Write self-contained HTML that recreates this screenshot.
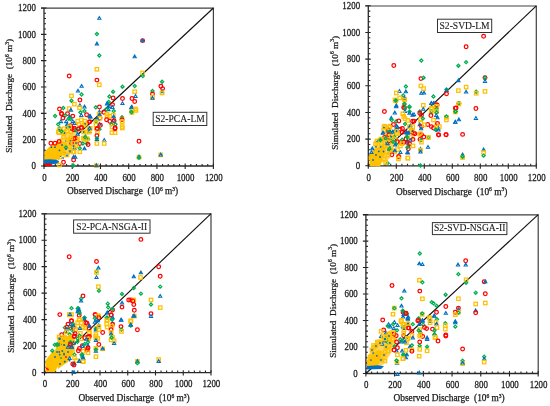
<!DOCTYPE html>
<html><head><meta charset="utf-8"><style>
html,body{margin:0;padding:0;background:#fff;}
svg{display:block;}
text{font-family:"Liberation Serif", "Times New Roman", serif;fill:#1a1a1a;stroke:#1a1a1a;stroke-width:0.25px;}
.t{font-size:9.7px;}
.l{font-size:9.2px;}
.lx{font-size:9.35px;}
.g{font-size:9.6px;stroke-width:0.1px;}
tspan.s{font-size:5.5px;}
.o{fill:none;stroke:#ff0000;stroke-width:1.25;}
.s_{fill:none;stroke:#ffc000;stroke-width:1.25;}
.d{fill:none;stroke:#00b050;stroke-width:1.25;}
.tr{fill:none;stroke:#0070c0;stroke-width:1.05;}
</style></head><body>
<svg width="550" height="406" viewBox="0 0 550 406">
<rect width="550" height="406" fill="#fff"/>
<path d="M41.00 8.20H213.40V166.00" fill="none" stroke="#404040" stroke-width="1.2"/>
<path d="M41.00 166.00H46.40M44.00 163.60V169.00M44.00 160.73H46.00M49.65 166.00V164.00M44.00 155.47H46.00M55.29 166.00V164.00M44.00 150.20H46.00M60.94 166.00V164.00M44.00 144.93H46.00M66.59 166.00V164.00M41.00 139.67H46.40M72.23 163.60V169.00M44.00 134.40H46.00M77.88 166.00V164.00M44.00 129.13H46.00M83.53 166.00V164.00M44.00 123.87H46.00M89.17 166.00V164.00M44.00 118.60H46.00M94.82 166.00V164.00M41.00 113.33H46.40M100.47 163.60V169.00M44.00 108.07H46.00M106.11 166.00V164.00M44.00 102.80H46.00M111.76 166.00V164.00M44.00 97.53H46.00M117.41 166.00V164.00M44.00 92.27H46.00M123.05 166.00V164.00M41.00 87.00H46.40M128.70 163.60V169.00M44.00 81.73H46.00M134.35 166.00V164.00M44.00 76.47H46.00M139.99 166.00V164.00M44.00 71.20H46.00M145.64 166.00V164.00M44.00 65.93H46.00M151.29 166.00V164.00M41.00 60.67H46.40M156.93 163.60V169.00M44.00 55.40H46.00M162.58 166.00V164.00M44.00 50.13H46.00M168.23 166.00V164.00M44.00 44.87H46.00M173.87 166.00V164.00M44.00 39.60H46.00M179.52 166.00V164.00M41.00 34.33H46.40M185.17 163.60V169.00M44.00 29.07H46.00M190.81 166.00V164.00M44.00 23.80H46.00M196.46 166.00V164.00M44.00 18.53H46.00M202.11 166.00V164.00M44.00 13.27H46.00M207.75 166.00V164.00M41.00 8.00H46.40M213.40 163.60V169.00" stroke="#222" stroke-width="1.1"/>
<path d="M44.00 8.00V166.00H213.40" fill="none" stroke="#2a2a2a" stroke-width="1.3"/>
<path d="M44.00 166.00L213.40 8.00" stroke="#111" stroke-width="1.15"/>
<polygon points="56,143 62,136 68,132 74,131 80,136 80,142 76,148 70,154 64,158" fill="#ffd560"/>
<polygon points="44.5,161 44.5,152 48,148 51,145.5 55,143.5 60,142 64,141.5 67,143 67,148 64,153 60,157.5 56,160.5" fill="#ffc000"/>
<polygon points="44,159.5 50,159.3 56,159.8 59,161 58.5,163.5 50,164.5 44,164.5" fill="#0070c0"/>
<polygon points="44.5,163.8 49,163.3 52,164.2 51.5,166 44.5,166" fill="#ff0000"/>
<path d="M99.3 16.5l1.6 2.8h-3.2z" class="tr"/>
<path d="M96.9 32.5l1.55 1.55l-1.55 1.55l-1.55 -1.55z" class="d"/>
<path d="M96.9 42.1l1.6 2.8h-3.2z" class="tr"/>
<path d="M99.3 53.9l1.55 1.55l-1.55 1.55l-1.55 -1.55z" class="d"/>
<circle cx="142.6" cy="40.6" r="1.85" class="o"/>
<path d="M142.6 39.0l1.6 2.8h-3.2z" class="tr"/>
<path d="M134.7 54.9l1.6 2.8h-3.2z" class="tr"/>
<rect x="95.2" y="67.6" width="3.4" height="3.4" class="s_"/>
<circle cx="69.2" cy="76.0" r="1.85" class="o"/>
<circle cx="96.9" cy="80.1" r="1.85" class="o"/>
<rect x="97.6" y="83.1" width="3.4" height="3.4" class="s_"/>
<path d="M81.6 84.5l1.6 2.8h-3.2z" class="tr"/>
<path d="M122.5 85.2l1.55 1.55l-1.55 1.55l-1.55 -1.55z" class="d"/>
<path d="M78.0 89.2l1.6 2.8h-3.2z" class="tr"/>
<path d="M113.1 90.2l1.55 1.55l-1.55 1.55l-1.55 -1.55z" class="d"/>
<path d="M81.6 93.0l1.55 1.55l-1.55 1.55l-1.55 -1.55z" class="d"/>
<rect x="69.8" y="94.2" width="3.4" height="3.4" class="s_"/>
<path d="M109.4 94.9l1.55 1.55l-1.55 1.55l-1.55 -1.55z" class="d"/>
<circle cx="113.1" cy="97.9" r="1.85" class="o"/>
<circle cx="122.5" cy="98.4" r="1.85" class="o"/>
<circle cx="79.9" cy="99.9" r="1.85" class="o"/>
<path d="M71.5 99.2l1.55 1.55l-1.55 1.55l-1.55 -1.55z" class="d"/>
<path d="M122.5 101.7l1.6 2.8h-3.2z" class="tr"/>
<rect x="72.7" y="102.4" width="3.4" height="3.4" class="s_"/>
<path d="M107.4 101.5l1.6 2.8h-3.2z" class="tr"/>
<circle cx="112.5" cy="104.6" r="1.85" class="o"/>
<path d="M79.9 103.7l1.6 2.8h-3.2z" class="tr"/>
<path d="M84.5 105.1l1.6 2.8h-3.2z" class="tr"/>
<circle cx="99.4" cy="107.0" r="1.85" class="o"/>
<path d="M95.8 105.8l1.55 1.55l-1.55 1.55l-1.55 -1.55z" class="d"/>
<circle cx="59.5" cy="109.0" r="1.85" class="o"/>
<path d="M63.3 106.5l1.55 1.55l-1.55 1.55l-1.55 -1.55z" class="d"/>
<rect x="67.5" y="106.9" width="3.4" height="3.4" class="s_"/>
<rect x="77.8" y="106.1" width="3.4" height="3.4" class="s_"/>
<rect x="140.8" y="71.2" width="3.4" height="3.4" class="s_"/>
<path d="M142.8 74.5l1.55 1.55l-1.55 1.55l-1.55 -1.55z" class="d"/>
<path d="M162.1 80.2l1.55 1.55l-1.55 1.55l-1.55 -1.55z" class="d"/>
<circle cx="160.9" cy="86.3" r="1.85" class="o"/>
<circle cx="162.6" cy="88.6" r="1.85" class="o"/>
<path d="M162.1 89.9l1.6 2.8h-3.2z" class="tr"/>
<rect x="160.4" y="91.3" width="3.4" height="3.4" class="s_"/>
<path d="M134.7 84.5l1.55 1.55l-1.55 1.55l-1.55 -1.55z" class="d"/>
<rect x="133.0" y="90.0" width="3.4" height="3.4" class="s_"/>
<path d="M135.5 94.6l1.6 2.8h-3.2z" class="tr"/>
<circle cx="132.0" cy="98.4" r="1.85" class="o"/>
<circle cx="134.7" cy="101.5" r="1.85" class="o"/>
<path d="M152.5 89.5l1.55 1.55l-1.55 1.55l-1.55 -1.55z" class="d"/>
<circle cx="152.5" cy="94.0" r="1.85" class="o"/>
<rect x="150.8" y="95.4" width="3.4" height="3.4" class="s_"/>
<path d="M152.5 96.4l1.6 2.8h-3.2z" class="tr"/>
<path d="M132.0 105.4l1.6 2.8h-3.2z" class="tr"/>
<rect x="133.8" y="107.3" width="3.4" height="3.4" class="s_"/>
<path d="M70.9 108.3l1.6 2.8h-3.2z" class="tr"/>
<path d="M80.4 110.8l1.55 1.55l-1.55 1.55l-1.55 -1.55z" class="d"/>
<path d="M84.4 109.5l1.55 1.55l-1.55 1.55l-1.55 -1.55z" class="d"/>
<circle cx="61.7" cy="113.9" r="1.85" class="o"/>
<circle cx="67.5" cy="113.6" r="1.85" class="o"/>
<path d="M55.1 114.5l1.55 1.55l-1.55 1.55l-1.55 -1.55z" class="d"/>
<path d="M65.1 114.0l1.55 1.55l-1.55 1.55l-1.55 -1.55z" class="d"/>
<circle cx="72.8" cy="116.1" r="1.85" class="o"/>
<path d="M69.6 114.9l1.6 2.8h-3.2z" class="tr"/>
<circle cx="86.6" cy="114.7" r="1.85" class="o"/>
<path d="M81.3 113.6l1.6 2.8h-3.2z" class="tr"/>
<circle cx="62.9" cy="118.1" r="1.85" class="o"/>
<path d="M70.6 117.5l1.55 1.55l-1.55 1.55l-1.55 -1.55z" class="d"/>
<path d="M90.1 114.5l1.6 2.8h-3.2z" class="tr"/>
<path d="M60.9 119.8l1.6 2.8h-3.2z" class="tr"/>
<path d="M66.2 119.8l1.6 2.8h-3.2z" class="tr"/>
<path d="M72.8 119.8l1.6 2.8h-3.2z" class="tr"/>
<path d="M74.6 121.6l1.6 2.8h-3.2z" class="tr"/>
<circle cx="89.3" cy="122.1" r="1.85" class="o"/>
<rect x="76.0" y="119.5" width="3.4" height="3.4" class="s_"/>
<rect x="79.6" y="118.1" width="3.4" height="3.4" class="s_"/>
<rect x="83.1" y="119.5" width="3.4" height="3.4" class="s_"/>
<rect x="77.3" y="122.6" width="3.4" height="3.4" class="s_"/>
<path d="M58.2 122.8l1.55 1.55l-1.55 1.55l-1.55 -1.55z" class="d"/>
<path d="M67.1 122.9l1.6 2.8h-3.2z" class="tr"/>
<circle cx="70.6" cy="125.6" r="1.85" class="o"/>
<rect x="82.2" y="123.5" width="3.4" height="3.4" class="s_"/>
<path d="M59.5 126.8l1.55 1.55l-1.55 1.55l-1.55 -1.55z" class="d"/>
<rect x="62.3" y="127.0" width="3.4" height="3.4" class="s_"/>
<path d="M67.8 126.2l1.55 1.55l-1.55 1.55l-1.55 -1.55z" class="d"/>
<circle cx="74.2" cy="128.3" r="1.85" class="o"/>
<path d="M78.2 127.1l1.55 1.55l-1.55 1.55l-1.55 -1.55z" class="d"/>
<circle cx="81.3" cy="127.8" r="1.85" class="o"/>
<rect x="87.6" y="127.0" width="3.4" height="3.4" class="s_"/>
<path d="M108.7 100.4l1.55 1.55l-1.55 1.55l-1.55 -1.55z" class="d"/>
<path d="M107.1 102.1l1.6 2.8h-3.2z" class="tr"/>
<path d="M108.9 104.7l1.6 2.8h-3.2z" class="tr"/>
<path d="M112.4 105.6l1.6 2.8h-3.2z" class="tr"/>
<path d="M131.5 105.6l1.6 2.8h-3.2z" class="tr"/>
<rect x="130.2" y="108.1" width="3.4" height="3.4" class="s_"/>
<path d="M131.9 110.8l1.55 1.55l-1.55 1.55l-1.55 -1.55z" class="d"/>
<rect x="130.2" y="110.8" width="3.4" height="3.4" class="s_"/>
<path d="M108.4 107.8l1.6 2.8h-3.2z" class="tr"/>
<path d="M106.5 108.0l1.55 1.55l-1.55 1.55l-1.55 -1.55z" class="d"/>
<path d="M99.4 110.1l1.6 2.8h-3.2z" class="tr"/>
<circle cx="103.8" cy="112.3" r="1.85" class="o"/>
<path d="M113.7 109.5l1.55 1.55l-1.55 1.55l-1.55 -1.55z" class="d"/>
<rect x="105.4" y="112.4" width="3.4" height="3.4" class="s_"/>
<rect x="97.4" y="112.4" width="3.4" height="3.4" class="s_"/>
<path d="M99.6 113.0l1.6 2.8h-3.2z" class="tr"/>
<rect x="111.6" y="113.3" width="3.4" height="3.4" class="s_"/>
<path d="M89.8 114.5l1.6 2.8h-3.2z" class="tr"/>
<rect x="105.4" y="114.2" width="3.4" height="3.4" class="s_"/>
<rect x="108.0" y="114.6" width="3.4" height="3.4" class="s_"/>
<path d="M122.0 115.7l1.55 1.55l-1.55 1.55l-1.55 -1.55z" class="d"/>
<rect x="120.3" y="117.7" width="3.4" height="3.4" class="s_"/>
<circle cx="122.0" cy="119.6" r="1.85" class="o"/>
<path d="M113.7 114.9l1.6 2.8h-3.2z" class="tr"/>
<circle cx="100.0" cy="118.1" r="1.85" class="o"/>
<rect x="98.3" y="116.6" width="3.4" height="3.4" class="s_"/>
<circle cx="106.6" cy="119.7" r="1.85" class="o"/>
<circle cx="109.7" cy="121.2" r="1.85" class="o"/>
<path d="M113.7 118.5l1.6 2.8h-3.2z" class="tr"/>
<circle cx="114.1" cy="120.8" r="1.85" class="o"/>
<path d="M97.3 117.2l1.6 2.8h-3.2z" class="tr"/>
<path d="M96.0 120.0l1.55 1.55l-1.55 1.55l-1.55 -1.55z" class="d"/>
<rect x="94.3" y="120.1" width="3.4" height="3.4" class="s_"/>
<circle cx="89.8" cy="121.6" r="1.85" class="o"/>
<rect x="120.5" y="119.9" width="3.4" height="3.4" class="s_"/>
<rect x="94.3" y="123.5" width="3.4" height="3.4" class="s_"/>
<path d="M99.5 122.5l1.6 2.8h-3.2z" class="tr"/>
<circle cx="100.4" cy="125.2" r="1.85" class="o"/>
<path d="M111.5 122.8l1.55 1.55l-1.55 1.55l-1.55 -1.55z" class="d"/>
<path d="M115.5 122.8l1.55 1.55l-1.55 1.55l-1.55 -1.55z" class="d"/>
<rect x="110.3" y="125.3" width="3.4" height="3.4" class="s_"/>
<circle cx="115.1" cy="127.8" r="1.85" class="o"/>
<rect x="120.5" y="124.8" width="3.4" height="3.4" class="s_"/>
<rect x="88.5" y="126.6" width="3.4" height="3.4" class="s_"/>
<rect x="95.2" y="127.0" width="3.4" height="3.4" class="s_"/>
<circle cx="96.9" cy="128.9" r="1.85" class="o"/>
<path d="M99.5 127.6l1.55 1.55l-1.55 1.55l-1.55 -1.55z" class="d"/>
<circle cx="50.9" cy="143.3" r="1.85" class="o"/>
<circle cx="55.0" cy="143.3" r="1.85" class="o"/>
<circle cx="59.1" cy="141.4" r="1.85" class="o"/>
<rect x="56.7" y="130.4" width="3.4" height="3.4" class="s_"/>
<rect x="61.6" y="131.0" width="3.4" height="3.4" class="s_"/>
<rect x="64.8" y="129.3" width="3.4" height="3.4" class="s_"/>
<rect x="69.3" y="130.4" width="3.4" height="3.4" class="s_"/>
<circle cx="72.0" cy="128.5" r="1.85" class="o"/>
<circle cx="75.2" cy="138.3" r="1.85" class="o"/>
<circle cx="71.5" cy="143.0" r="1.85" class="o"/>
<circle cx="79.8" cy="143.5" r="1.85" class="o"/>
<path d="M82.9 141.9l1.55 1.55l-1.55 1.55l-1.55 -1.55z" class="d"/>
<path d="M74.6 146.4l1.6 2.8h-3.2z" class="tr"/>
<rect x="78.1" y="150.1" width="3.4" height="3.4" class="s_"/>
<rect x="72.4" y="150.1" width="3.4" height="3.4" class="s_"/>
<path d="M79.8 146.6l1.55 1.55l-1.55 1.55l-1.55 -1.55z" class="d"/>
<path d="M73.6 155.2l1.6 2.8h-3.2z" class="tr"/>
<circle cx="73.6" cy="160.0" r="1.85" class="o"/>
<circle cx="63.5" cy="162.2" r="1.85" class="o"/>
<path d="M73.3 163.9l1.55 1.55l-1.55 1.55l-1.55 -1.55z" class="d"/>
<path d="M75.3 155.4l1.6 2.8h-3.2z" class="tr"/>
<rect x="57.8" y="163.3" width="3.4" height="3.4" class="s_"/>
<rect x="81.7" y="136.6" width="3.4" height="3.4" class="s_"/>
<rect x="83.8" y="137.8" width="3.4" height="3.4" class="s_"/>
<path d="M87.0 141.9l1.55 1.55l-1.55 1.55l-1.55 -1.55z" class="d"/>
<circle cx="51.3" cy="147.2" r="0.9" fill="#0070c0"/>
<circle cx="55.0" cy="147.2" r="0.9" fill="#0070c0"/>
<circle cx="59.5" cy="150.4" r="0.9" fill="#0070c0"/>
<circle cx="64.7" cy="152.5" r="0.9" fill="#0070c0"/>
<circle cx="60.7" cy="156.1" r="0.9" fill="#0070c0"/>
<circle cx="58.7" cy="158.6" r="0.9" fill="#0070c0"/>
<circle cx="62.0" cy="145.0" r="0.9" fill="#0070c0"/>
<circle cx="66.0" cy="141.0" r="0.9" fill="#0070c0"/>
<rect x="67.8" y="145.3" width="3.4" height="3.4" class="s_"/>
<rect x="66.3" y="138.3" width="3.4" height="3.4" class="s_"/>
<path d="M66.0 145.9l1.55 1.55l-1.55 1.55l-1.55 -1.55z" class="d"/>
<circle cx="70.0" cy="152.0" r="0.9" fill="#0070c0"/>
<rect x="84.4" y="130.4" width="3.4" height="3.4" class="s_"/>
<rect x="87.5" y="130.4" width="3.4" height="3.4" class="s_"/>
<path d="M89.2 129.7l1.6 2.8h-3.2z" class="tr"/>
<rect x="95.7" y="130.4" width="3.4" height="3.4" class="s_"/>
<circle cx="97.4" cy="128.5" r="1.85" class="o"/>
<rect x="110.2" y="131.0" width="3.4" height="3.4" class="s_"/>
<rect x="113.3" y="131.0" width="3.4" height="3.4" class="s_"/>
<circle cx="115.0" cy="128.8" r="1.85" class="o"/>
<rect x="120.6" y="126.3" width="3.4" height="3.4" class="s_"/>
<circle cx="96.9" cy="135.8" r="1.85" class="o"/>
<path d="M96.9 136.8l1.55 1.55l-1.55 1.55l-1.55 -1.55z" class="d"/>
<path d="M96.9 137.7l1.6 2.8h-3.2z" class="tr"/>
<rect x="95.2" y="141.8" width="3.4" height="3.4" class="s_"/>
<path d="M104.2 138.6l1.6 2.8h-3.2z" class="tr"/>
<rect x="102.5" y="141.8" width="3.4" height="3.4" class="s_"/>
<path d="M85.6 135.0l1.6 2.8h-3.2z" class="tr"/>
<rect x="83.9" y="137.7" width="3.4" height="3.4" class="s_"/>
<path d="M88.1 137.8l1.55 1.55l-1.55 1.55l-1.55 -1.55z" class="d"/>
<circle cx="88.1" cy="144.5" r="1.85" class="o"/>
<path d="M84.5 146.9l1.6 2.8h-3.2z" class="tr"/>
<rect x="94.7" y="164.0" width="3.4" height="3.4" class="s_"/>
<path d="M96.4 163.7l1.6 2.8h-3.2z" class="tr"/>
<path d="M131.3 106.0l1.6 2.8h-3.2z" class="tr"/>
<rect x="134.3" y="108.7" width="3.4" height="3.4" class="s_"/>
<path d="M131.3 110.5l1.55 1.55l-1.55 1.55l-1.55 -1.55z" class="d"/>
<circle cx="139.0" cy="141.3" r="1.85" class="o"/>
<rect x="137.3" y="155.5" width="3.4" height="3.4" class="s_"/>
<path d="M139.0 155.0l1.6 2.8h-3.2z" class="tr"/>
<path d="M139.0 156.2l1.55 1.55l-1.55 1.55l-1.55 -1.55z" class="d"/>
<rect x="159.0" y="153.2" width="3.4" height="3.4" class="s_"/>
<path d="M160.7 153.1l1.6 2.8h-3.2z" class="tr"/>
<rect x="68.3" y="138.3" width="3.4" height="3.4" class="s_"/>
<rect x="71.3" y="141.3" width="3.4" height="3.4" class="s_"/>
<rect x="74.3" y="144.3" width="3.4" height="3.4" class="s_"/>
<rect x="68.3" y="148.3" width="3.4" height="3.4" class="s_"/>
<rect x="71.3" y="150.3" width="3.4" height="3.4" class="s_"/>
<rect x="65.3" y="153.3" width="3.4" height="3.4" class="s_"/>
<rect x="75.3" y="138.3" width="3.4" height="3.4" class="s_"/>
<circle cx="70.5" cy="140.5" r="0.9" fill="#0070c0"/>
<circle cx="73.5" cy="146.0" r="0.9" fill="#0070c0"/>
<circle cx="70.0" cy="151.0" r="0.9" fill="#0070c0"/>
<circle cx="67.0" cy="155.5" r="0.9" fill="#0070c0"/>
<circle cx="76.0" cy="143.0" r="0.9" fill="#0070c0"/>
<circle cx="63.0" cy="158.0" r="0.9" fill="#0070c0"/>
<circle cx="66.0" cy="149.0" r="0.9" fill="#0070c0"/>
<rect x="58.3" y="155.3" width="3.4" height="3.4" class="s_"/>
<rect x="61.3" y="151.3" width="3.4" height="3.4" class="s_"/>
<rect x="57.5" y="128.1" width="3.4" height="3.4" class="s_"/>
<rect x="62.7" y="130.3" width="3.4" height="3.4" class="s_"/>
<circle cx="64.4" cy="133.0" r="0.9" fill="#0070c0"/>
<rect x="57.5" y="131.0" width="3.4" height="3.4" class="s_"/>
<path d="M61.4 129.8l1.55 1.55l-1.55 1.55l-1.55 -1.55z" class="d"/>
<rect x="67.9" y="125.1" width="3.4" height="3.4" class="s_"/>
<circle cx="74.0" cy="129.8" r="1.85" class="o"/>
<path d="M76.2 128.9l1.55 1.55l-1.55 1.55l-1.55 -1.55z" class="d"/>
<circle cx="78.4" cy="129.0" r="1.85" class="o"/>
<rect x="83.4" y="122.2" width="3.4" height="3.4" class="s_"/>
<circle cx="81.4" cy="127.6" r="1.85" class="o"/>
<rect x="81.9" y="130.3" width="3.4" height="3.4" class="s_"/>
<rect x="87.1" y="128.8" width="3.4" height="3.4" class="s_"/>
<path d="M89.6 126.5l1.6 2.8h-3.2z" class="tr"/>
<path d="M90.3 115.4l1.6 2.8h-3.2z" class="tr"/>
<rect x="82.7" y="136.2" width="3.4" height="3.4" class="s_"/>
<rect x="85.6" y="137.0" width="3.4" height="3.4" class="s_"/>
<circle cx="74.0" cy="138.7" r="1.85" class="o"/>
<rect x="61.9" y="135.5" width="3.4" height="3.4" class="s_"/>
<path d="M77.7 132.4l1.6 2.8h-3.2z" class="tr"/>
<rect x="69.3" y="136.2" width="3.4" height="3.4" class="s_"/>
<path d="M85.1 135.6l1.55 1.55l-1.55 1.55l-1.55 -1.55z" class="d"/>
<circle cx="61.4" cy="113.5" r="1.85" class="o"/>
<path d="M68.8 117.2l1.55 1.55l-1.55 1.55l-1.55 -1.55z" class="d"/>
<circle cx="59.2" cy="129.8" r="0.9" fill="#0070c0"/>
<circle cx="69.6" cy="126.8" r="0.9" fill="#0070c0"/>
<circle cx="85.1" cy="123.9" r="0.9" fill="#0070c0"/>
<circle cx="83.6" cy="132.0" r="0.9" fill="#0070c0"/>
<text transform="translate(35.90,169.20) scale(0.92,1)" text-anchor="end" class="t">0</text>
<text transform="translate(44.40,180.70) scale(0.92,1)" text-anchor="middle" class="t">0</text>
<text transform="translate(35.90,142.87) scale(0.92,1)" text-anchor="end" class="t">200</text>
<text transform="translate(72.63,180.70) scale(0.92,1)" text-anchor="middle" class="t">200</text>
<text transform="translate(35.90,116.53) scale(0.92,1)" text-anchor="end" class="t">400</text>
<text transform="translate(100.87,180.70) scale(0.92,1)" text-anchor="middle" class="t">400</text>
<text transform="translate(35.90,90.20) scale(0.92,1)" text-anchor="end" class="t">600</text>
<text transform="translate(129.10,180.70) scale(0.92,1)" text-anchor="middle" class="t">600</text>
<text transform="translate(35.90,63.87) scale(0.92,1)" text-anchor="end" class="t">800</text>
<text transform="translate(157.33,180.70) scale(0.92,1)" text-anchor="middle" class="t">800</text>
<text transform="translate(35.90,37.53) scale(0.92,1)" text-anchor="end" class="t">1000</text>
<text transform="translate(185.57,180.70) scale(0.92,1)" text-anchor="middle" class="t">1000</text>
<text transform="translate(35.90,11.20) scale(0.92,1)" text-anchor="end" class="t">1200</text>
<text transform="translate(213.80,180.70) scale(0.92,1)" text-anchor="middle" class="t">1200</text>
<text transform="translate(67.00,194.40) scale(1,1)" class="l lx">Observed Discharge&#160; (10<tspan class="s" dy="-3.6">6</tspan><tspan dy="3.6"> m</tspan><tspan class="s" dy="-3.6">3</tspan><tspan dy="3.6">)</tspan></text>
<text transform="translate(12.30,152.80) scale(1,1) rotate(-90)" class="l">Simulated&#160; Discharge&#160; (10<tspan class="s" dy="-3.6">6</tspan><tspan dy="3.6"> m</tspan><tspan class="s" dy="-3.6">3</tspan><tspan dy="3.6">)</tspan></text>
<rect x="153.20" y="112.30" width="53.60" height="13.20" fill="#fff" stroke="#333" stroke-width="1"/>
<text x="180.00" y="122.20" text-anchor="middle" class="g">S2-PCA-LM</text>
<path d="M365.30 6.00H536.30V165.80" fill="none" stroke="#404040" stroke-width="1.2"/>
<path d="M365.30 165.80H370.70M368.30 163.40V168.80M368.30 160.47H370.30M373.90 165.80V163.80M368.30 155.13H370.30M379.50 165.80V163.80M368.30 149.80H370.30M385.10 165.80V163.80M368.30 144.47H370.30M390.70 165.80V163.80M365.30 139.13H370.70M396.30 163.40V168.80M368.30 133.80H370.30M401.90 165.80V163.80M368.30 128.47H370.30M407.50 165.80V163.80M368.30 123.13H370.30M413.10 165.80V163.80M368.30 117.80H370.30M418.70 165.80V163.80M365.30 112.47H370.70M424.30 163.40V168.80M368.30 107.13H370.30M429.90 165.80V163.80M368.30 101.80H370.30M435.50 165.80V163.80M368.30 96.47H370.30M441.10 165.80V163.80M368.30 91.13H370.30M446.70 165.80V163.80M365.30 85.80H370.70M452.30 163.40V168.80M368.30 80.47H370.30M457.90 165.80V163.80M368.30 75.13H370.30M463.50 165.80V163.80M368.30 69.80H370.30M469.10 165.80V163.80M368.30 64.47H370.30M474.70 165.80V163.80M365.30 59.13H370.70M480.30 163.40V168.80M368.30 53.80H370.30M485.90 165.80V163.80M368.30 48.47H370.30M491.50 165.80V163.80M368.30 43.13H370.30M497.10 165.80V163.80M368.30 37.80H370.30M502.70 165.80V163.80M365.30 32.47H370.70M508.30 163.40V168.80M368.30 27.13H370.30M513.90 165.80V163.80M368.30 21.80H370.30M519.50 165.80V163.80M368.30 16.47H370.30M525.10 165.80V163.80M368.30 11.13H370.30M530.70 165.80V163.80M365.30 5.80H370.70M536.30 163.40V168.80" stroke="#222" stroke-width="1.1"/>
<path d="M368.30 5.80V165.80H536.30" fill="none" stroke="#2a2a2a" stroke-width="1.3"/>
<path d="M368.30 165.80L536.30 5.80" stroke="#111" stroke-width="1.15"/>
<polygon points="374,141 380,137 390,137 394,142 393.5,152 389,159 385,163 378,160 373,152" fill="#ffd560"/>
<polygon points="369.5,166 369.5,154.5 371.6,151.5 375.4,148.7 379,146.8 383,146 385.6,148.7 385.6,153.4 383,158 382,162 380,166" fill="#ffc000"/>
<circle cx="483.6" cy="36.3" r="1.85" class="o"/>
<circle cx="466.1" cy="46.7" r="1.85" class="o"/>
<path d="M421.3 59.0l1.55 1.55l-1.55 1.55l-1.55 -1.55z" class="d"/>
<circle cx="393.8" cy="65.5" r="1.85" class="o"/>
<circle cx="420.9" cy="78.6" r="1.85" class="o"/>
<path d="M423.6 76.2l1.55 1.55l-1.55 1.55l-1.55 -1.55z" class="d"/>
<path d="M405.9 85.0l1.55 1.55l-1.55 1.55l-1.55 -1.55z" class="d"/>
<rect x="419.2" y="84.2" width="3.4" height="3.4" class="s_"/>
<rect x="421.9" y="86.9" width="3.4" height="3.4" class="s_"/>
<path d="M421.3 91.5l1.6 2.8h-3.2z" class="tr"/>
<path d="M424.0 91.2l1.6 2.8h-3.2z" class="tr"/>
<path d="M399.4 89.6l1.6 2.8h-3.2z" class="tr"/>
<path d="M405.9 89.9l1.6 2.8h-3.2z" class="tr"/>
<rect x="394.6" y="91.3" width="3.4" height="3.4" class="s_"/>
<path d="M403.2 94.0l1.55 1.55l-1.55 1.55l-1.55 -1.55z" class="d"/>
<rect x="398.0" y="96.2" width="3.4" height="3.4" class="s_"/>
<rect x="402.9" y="97.4" width="3.4" height="3.4" class="s_"/>
<path d="M404.6 96.4l1.6 2.8h-3.2z" class="tr"/>
<rect x="393.3" y="98.2" width="3.4" height="3.4" class="s_"/>
<path d="M396.3 99.5l1.55 1.55l-1.55 1.55l-1.55 -1.55z" class="d"/>
<path d="M396.3 103.8l1.6 2.8h-3.2z" class="tr"/>
<path d="M404.6 102.5l1.55 1.55l-1.55 1.55l-1.55 -1.55z" class="d"/>
<path d="M409.4 105.4l1.55 1.55l-1.55 1.55l-1.55 -1.55z" class="d"/>
<circle cx="404.6" cy="108.0" r="1.85" class="o"/>
<path d="M433.4 94.9l1.55 1.55l-1.55 1.55l-1.55 -1.55z" class="d"/>
<path d="M446.5 87.9l1.55 1.55l-1.55 1.55l-1.55 -1.55z" class="d"/>
<path d="M446.5 88.7l1.6 2.8h-3.2z" class="tr"/>
<circle cx="446.5" cy="93.7" r="1.85" class="o"/>
<path d="M431.4 101.5l1.6 2.8h-3.2z" class="tr"/>
<path d="M434.0 101.5l1.6 2.8h-3.2z" class="tr"/>
<rect x="421.6" y="103.6" width="3.4" height="3.4" class="s_"/>
<circle cx="437.1" cy="104.9" r="1.85" class="o"/>
<rect x="430.4" y="106.3" width="3.4" height="3.4" class="s_"/>
<rect x="434.3" y="106.3" width="3.4" height="3.4" class="s_"/>
<path d="M458.4 64.2l1.55 1.55l-1.55 1.55l-1.55 -1.55z" class="d"/>
<path d="M466.1 60.6l1.55 1.55l-1.55 1.55l-1.55 -1.55z" class="d"/>
<path d="M458.4 78.8l1.6 2.8h-3.2z" class="tr"/>
<circle cx="485.0" cy="77.8" r="1.85" class="o"/>
<path d="M485.0 76.2l1.55 1.55l-1.55 1.55l-1.55 -1.55z" class="d"/>
<path d="M485.0 79.6l1.6 2.8h-3.2z" class="tr"/>
<rect x="464.4" y="85.4" width="3.4" height="3.4" class="s_"/>
<rect x="456.7" y="88.9" width="3.4" height="3.4" class="s_"/>
<path d="M466.1 90.2l1.6 2.8h-3.2z" class="tr"/>
<path d="M476.2 90.2l1.55 1.55l-1.55 1.55l-1.55 -1.55z" class="d"/>
<rect x="474.5" y="91.6" width="3.4" height="3.4" class="s_"/>
<rect x="483.3" y="89.7" width="3.4" height="3.4" class="s_"/>
<circle cx="458.9" cy="103.6" r="1.85" class="o"/>
<path d="M458.9 101.7l1.55 1.55l-1.55 1.55l-1.55 -1.55z" class="d"/>
<rect x="457.2" y="102.3" width="3.4" height="3.4" class="s_"/>
<circle cx="455.3" cy="108.2" r="1.85" class="o"/>
<circle cx="475.9" cy="108.4" r="1.85" class="o"/>
<rect x="453.6" y="110.3" width="3.4" height="3.4" class="s_"/>
<path d="M455.3 110.0l1.55 1.55l-1.55 1.55l-1.55 -1.55z" class="d"/>
<path d="M458.9 117.9l1.6 2.8h-3.2z" class="tr"/>
<path d="M455.3 120.5l1.6 2.8h-3.2z" class="tr"/>
<path d="M475.9 116.6l1.6 2.8h-3.2z" class="tr"/>
<circle cx="462.6" cy="134.4" r="1.85" class="o"/>
<path d="M462.6 153.0l1.6 2.8h-3.2z" class="tr"/>
<rect x="460.9" y="155.8" width="3.4" height="3.4" class="s_"/>
<path d="M462.6 155.2l1.55 1.55l-1.55 1.55l-1.55 -1.55z" class="d"/>
<path d="M483.6 148.0l1.6 2.8h-3.2z" class="tr"/>
<rect x="481.9" y="150.9" width="3.4" height="3.4" class="s_"/>
<path d="M483.6 154.1l1.55 1.55l-1.55 1.55l-1.55 -1.55z" class="d"/>
<rect x="394.0" y="99.2" width="3.4" height="3.4" class="s_"/>
<path d="M395.7 99.0l1.55 1.55l-1.55 1.55l-1.55 -1.55z" class="d"/>
<rect x="402.9" y="98.3" width="3.4" height="3.4" class="s_"/>
<path d="M404.3 102.5l1.55 1.55l-1.55 1.55l-1.55 -1.55z" class="d"/>
<path d="M396.2 104.9l1.6 2.8h-3.2z" class="tr"/>
<path d="M409.5 105.2l1.55 1.55l-1.55 1.55l-1.55 -1.55z" class="d"/>
<circle cx="403.7" cy="107.5" r="1.85" class="o"/>
<path d="M405.0 106.5l1.55 1.55l-1.55 1.55l-1.55 -1.55z" class="d"/>
<circle cx="384.4" cy="111.5" r="1.85" class="o"/>
<path d="M394.8 111.1l1.6 2.8h-3.2z" class="tr"/>
<path d="M405.0 109.7l1.6 2.8h-3.2z" class="tr"/>
<path d="M409.5 110.0l1.55 1.55l-1.55 1.55l-1.55 -1.55z" class="d"/>
<rect x="401.1" y="112.1" width="3.4" height="3.4" class="s_"/>
<rect x="402.0" y="114.7" width="3.4" height="3.4" class="s_"/>
<path d="M409.5 111.5l1.6 2.8h-3.2z" class="tr"/>
<path d="M391.3 116.4l1.6 2.8h-3.2z" class="tr"/>
<path d="M391.7 118.5l1.55 1.55l-1.55 1.55l-1.55 -1.55z" class="d"/>
<path d="M396.2 119.8l1.55 1.55l-1.55 1.55l-1.55 -1.55z" class="d"/>
<circle cx="398.8" cy="120.9" r="1.85" class="o"/>
<rect x="403.3" y="116.9" width="3.4" height="3.4" class="s_"/>
<rect x="406.0" y="118.7" width="3.4" height="3.4" class="s_"/>
<path d="M412.6 113.3l1.6 2.8h-3.2z" class="tr"/>
<circle cx="412.6" cy="121.3" r="1.85" class="o"/>
<rect x="382.9" y="124.5" width="3.4" height="3.4" class="s_"/>
<rect x="388.3" y="124.5" width="3.4" height="3.4" class="s_"/>
<path d="M396.6 124.4l1.6 2.8h-3.2z" class="tr"/>
<circle cx="393.5" cy="124.4" r="1.85" class="o"/>
<path d="M405.0 122.5l1.55 1.55l-1.55 1.55l-1.55 -1.55z" class="d"/>
<circle cx="402.4" cy="128.4" r="1.85" class="o"/>
<rect x="407.8" y="124.9" width="3.4" height="3.4" class="s_"/>
<path d="M410.4 124.0l1.6 2.8h-3.2z" class="tr"/>
<path d="M382.9 131.5l1.6 2.8h-3.2z" class="tr"/>
<rect x="382.0" y="128.5" width="3.4" height="3.4" class="s_"/>
<circle cx="388.6" cy="130.2" r="1.85" class="o"/>
<path d="M389.5 129.4l1.6 2.8h-3.2z" class="tr"/>
<path d="M395.3 128.4l1.6 2.8h-3.2z" class="tr"/>
<rect x="394.5" y="131.6" width="3.4" height="3.4" class="s_"/>
<path d="M392.2 130.8l1.55 1.55l-1.55 1.55l-1.55 -1.55z" class="d"/>
<circle cx="405.0" cy="131.9" r="1.85" class="o"/>
<rect x="409.6" y="129.4" width="3.4" height="3.4" class="s_"/>
<path d="M407.7 131.5l1.6 2.8h-3.2z" class="tr"/>
<circle cx="400.2" cy="129.3" r="1.85" class="o"/>
<rect x="384.7" y="132.5" width="3.4" height="3.4" class="s_"/>
<path d="M431.3 101.7l1.6 2.8h-3.2z" class="tr"/>
<path d="M433.5 101.7l1.6 2.8h-3.2z" class="tr"/>
<circle cx="436.6" cy="104.9" r="1.85" class="o"/>
<rect x="434.9" y="104.5" width="3.4" height="3.4" class="s_"/>
<rect x="429.6" y="107.2" width="3.4" height="3.4" class="s_"/>
<path d="M436.6 107.4l1.55 1.55l-1.55 1.55l-1.55 -1.55z" class="d"/>
<path d="M423.3 107.5l1.6 2.8h-3.2z" class="tr"/>
<path d="M419.8 110.0l1.55 1.55l-1.55 1.55l-1.55 -1.55z" class="d"/>
<circle cx="419.8" cy="113.3" r="1.85" class="o"/>
<path d="M431.3 110.0l1.55 1.55l-1.55 1.55l-1.55 -1.55z" class="d"/>
<rect x="429.6" y="110.3" width="3.4" height="3.4" class="s_"/>
<rect x="434.9" y="109.8" width="3.4" height="3.4" class="s_"/>
<path d="M436.6 111.0l1.55 1.55l-1.55 1.55l-1.55 -1.55z" class="d"/>
<circle cx="430.9" cy="115.5" r="1.85" class="o"/>
<path d="M436.2 113.7l1.6 2.8h-3.2z" class="tr"/>
<path d="M437.5 115.9l1.6 2.8h-3.2z" class="tr"/>
<circle cx="421.5" cy="115.1" r="1.85" class="o"/>
<rect x="418.9" y="117.4" width="3.4" height="3.4" class="s_"/>
<path d="M422.9 117.0l1.55 1.55l-1.55 1.55l-1.55 -1.55z" class="d"/>
<path d="M414.0 112.8l1.6 2.8h-3.2z" class="tr"/>
<rect x="431.8" y="118.3" width="3.4" height="3.4" class="s_"/>
<circle cx="414.0" cy="121.3" r="1.85" class="o"/>
<rect x="444.7" y="115.6" width="3.4" height="3.4" class="s_"/>
<path d="M446.4 114.9l1.55 1.55l-1.55 1.55l-1.55 -1.55z" class="d"/>
<rect x="444.7" y="118.3" width="3.4" height="3.4" class="s_"/>
<path d="M455.3 120.4l1.6 2.8h-3.2z" class="tr"/>
<circle cx="456.1" cy="108.0" r="1.85" class="o"/>
<path d="M455.7 110.0l1.55 1.55l-1.55 1.55l-1.55 -1.55z" class="d"/>
<circle cx="427.7" cy="124.4" r="1.85" class="o"/>
<circle cx="431.3" cy="126.6" r="1.85" class="o"/>
<circle cx="433.5" cy="127.9" r="1.85" class="o"/>
<rect x="434.9" y="124.0" width="3.4" height="3.4" class="s_"/>
<circle cx="437.5" cy="123.5" r="1.85" class="o"/>
<path d="M438.4 126.2l1.6 2.8h-3.2z" class="tr"/>
<path d="M435.7 128.1l1.55 1.55l-1.55 1.55l-1.55 -1.55z" class="d"/>
<rect x="437.6" y="124.9" width="3.4" height="3.4" class="s_"/>
<rect x="418.9" y="121.4" width="3.4" height="3.4" class="s_"/>
<path d="M419.8 123.0l1.6 2.8h-3.2z" class="tr"/>
<circle cx="421.5" cy="126.6" r="1.85" class="o"/>
<rect x="422.5" y="123.1" width="3.4" height="3.4" class="s_"/>
<path d="M421.1 127.0l1.6 2.8h-3.2z" class="tr"/>
<rect x="411.0" y="124.9" width="3.4" height="3.4" class="s_"/>
<path d="M412.7 129.3l1.6 2.8h-3.2z" class="tr"/>
<circle cx="413.5" cy="133.3" r="1.85" class="o"/>
<rect x="418.1" y="132.5" width="3.4" height="3.4" class="s_"/>
<circle cx="421.5" cy="134.6" r="1.85" class="o"/>
<circle cx="438.4" cy="134.6" r="1.85" class="o"/>
<circle cx="445.9" cy="134.6" r="1.85" class="o"/>
<path d="M388.2 130.3l1.55 1.55l-1.55 1.55l-1.55 -1.55z" class="d"/>
<circle cx="388.7" cy="134.7" r="1.85" class="o"/>
<path d="M392.9 130.1l1.6 2.8h-3.2z" class="tr"/>
<rect x="395.8" y="132.0" width="3.4" height="3.4" class="s_"/>
<circle cx="402.2" cy="132.3" r="1.85" class="o"/>
<path d="M406.0 131.0l1.6 2.8h-3.2z" class="tr"/>
<circle cx="384.5" cy="137.5" r="1.85" class="o"/>
<path d="M379.3 138.8l1.55 1.55l-1.55 1.55l-1.55 -1.55z" class="d"/>
<rect x="373.9" y="142.3" width="3.4" height="3.4" class="s_"/>
<circle cx="389.1" cy="140.8" r="1.85" class="o"/>
<path d="M391.0 136.8l1.55 1.55l-1.55 1.55l-1.55 -1.55z" class="d"/>
<path d="M394.3 135.4l1.55 1.55l-1.55 1.55l-1.55 -1.55z" class="d"/>
<rect x="393.5" y="137.7" width="3.4" height="3.4" class="s_"/>
<circle cx="397.5" cy="141.7" r="1.85" class="o"/>
<circle cx="400.4" cy="142.6" r="1.85" class="o"/>
<path d="M396.1 142.4l1.55 1.55l-1.55 1.55l-1.55 -1.55z" class="d"/>
<path d="M395.2 143.2l1.6 2.8h-3.2z" class="tr"/>
<rect x="398.7" y="144.2" width="3.4" height="3.4" class="s_"/>
<path d="M402.2 138.2l1.55 1.55l-1.55 1.55l-1.55 -1.55z" class="d"/>
<circle cx="404.1" cy="142.2" r="1.85" class="o"/>
<circle cx="406.0" cy="138.9" r="1.85" class="o"/>
<path d="M406.9 139.9l1.6 2.8h-3.2z" class="tr"/>
<path d="M406.9 134.9l1.55 1.55l-1.55 1.55l-1.55 -1.55z" class="d"/>
<path d="M408.8 143.8l1.55 1.55l-1.55 1.55l-1.55 -1.55z" class="d"/>
<circle cx="408.3" cy="148.7" r="1.85" class="o"/>
<path d="M407.4 150.7l1.6 2.8h-3.2z" class="tr"/>
<rect x="406.1" y="156.4" width="3.4" height="3.4" class="s_"/>
<rect x="395.8" y="147.9" width="3.4" height="3.4" class="s_"/>
<rect x="393.0" y="149.8" width="3.4" height="3.4" class="s_"/>
<path d="M400.4 150.7l1.6 2.8h-3.2z" class="tr"/>
<rect x="397.3" y="155.4" width="3.4" height="3.4" class="s_"/>
<circle cx="398.6" cy="156.5" r="1.85" class="o"/>
<rect x="396.8" y="157.3" width="3.4" height="3.4" class="s_"/>
<circle cx="391.9" cy="154.8" r="1.85" class="o"/>
<path d="M387.7 161.6l1.55 1.55l-1.55 1.55l-1.55 -1.55z" class="d"/>
<rect x="383.8" y="160.8" width="3.4" height="3.4" class="s_"/>
<path d="M372.3 146.9l1.6 2.8h-3.2z" class="tr"/>
<path d="M371.4 150.7l1.6 2.8h-3.2z" class="tr"/>
<circle cx="376.0" cy="146.8" r="0.9" fill="#0070c0"/>
<circle cx="380.7" cy="146.8" r="0.9" fill="#0070c0"/>
<circle cx="383.5" cy="151.5" r="0.9" fill="#0070c0"/>
<circle cx="388.2" cy="153.4" r="0.9" fill="#0070c0"/>
<circle cx="378.8" cy="151.5" r="0.9" fill="#0070c0"/>
<rect x="369.3" y="156.3" width="3.4" height="3.4" class="s_"/>
<rect x="374.3" y="158.3" width="3.4" height="3.4" class="s_"/>
<rect x="378.3" y="153.3" width="3.4" height="3.4" class="s_"/>
<rect x="383.3" y="144.3" width="3.4" height="3.4" class="s_"/>
<rect x="388.3" y="148.3" width="3.4" height="3.4" class="s_"/>
<rect x="371.3" y="161.3" width="3.4" height="3.4" class="s_"/>
<rect x="376.3" y="162.3" width="3.4" height="3.4" class="s_"/>
<path d="M408.8 131.0l1.6 2.8h-3.2z" class="tr"/>
<rect x="410.8" y="129.2" width="3.4" height="3.4" class="s_"/>
<circle cx="414.9" cy="133.7" r="1.85" class="o"/>
<path d="M407.4 135.9l1.55 1.55l-1.55 1.55l-1.55 -1.55z" class="d"/>
<rect x="409.4" y="135.8" width="3.4" height="3.4" class="s_"/>
<circle cx="413.0" cy="139.4" r="1.85" class="o"/>
<path d="M410.2 138.5l1.6 2.8h-3.2z" class="tr"/>
<circle cx="406.9" cy="142.2" r="1.85" class="o"/>
<circle cx="409.7" cy="144.0" r="1.85" class="o"/>
<rect x="411.3" y="144.2" width="3.4" height="3.4" class="s_"/>
<path d="M407.4 145.8l1.55 1.55l-1.55 1.55l-1.55 -1.55z" class="d"/>
<path d="M407.9 151.1l1.6 2.8h-3.2z" class="tr"/>
<rect x="406.2" y="156.4" width="3.4" height="3.4" class="s_"/>
<rect x="418.8" y="132.0" width="3.4" height="3.4" class="s_"/>
<circle cx="423.8" cy="137.0" r="1.85" class="o"/>
<circle cx="420.0" cy="139.4" r="1.85" class="o"/>
<path d="M421.0 138.8l1.55 1.55l-1.55 1.55l-1.55 -1.55z" class="d"/>
<rect x="419.7" y="140.5" width="3.4" height="3.4" class="s_"/>
<path d="M428.5 135.9l1.55 1.55l-1.55 1.55l-1.55 -1.55z" class="d"/>
<rect x="426.8" y="135.8" width="3.4" height="3.4" class="s_"/>
<path d="M428.0 145.5l1.6 2.8h-3.2z" class="tr"/>
<path d="M420.5 147.4l1.6 2.8h-3.2z" class="tr"/>
<rect x="418.8" y="148.4" width="3.4" height="3.4" class="s_"/>
<path d="M420.5 150.2l1.6 2.8h-3.2z" class="tr"/>
<path d="M420.5 163.9l1.55 1.55l-1.55 1.55l-1.55 -1.55z" class="d"/>
<circle cx="438.7" cy="135.1" r="1.85" class="o"/>
<circle cx="446.2" cy="134.7" r="1.85" class="o"/>
<path d="M436.0 128.4l1.55 1.55l-1.55 1.55l-1.55 -1.55z" class="d"/>
<path d="M438.5 128.2l1.6 2.8h-3.2z" class="tr"/>
<circle cx="377.0" cy="142.0" r="0.9" fill="#0070c0"/>
<circle cx="381.0" cy="140.0" r="0.9" fill="#0070c0"/>
<circle cx="386.0" cy="143.0" r="0.9" fill="#0070c0"/>
<circle cx="390.0" cy="147.0" r="0.9" fill="#0070c0"/>
<circle cx="388.0" cy="150.0" r="0.9" fill="#0070c0"/>
<circle cx="376.0" cy="155.0" r="0.9" fill="#0070c0"/>
<circle cx="373.0" cy="160.0" r="0.9" fill="#0070c0"/>
<circle cx="380.0" cy="157.0" r="0.9" fill="#0070c0"/>
<rect x="375.3" y="139.3" width="3.4" height="3.4" class="s_"/>
<rect x="379.3" y="137.3" width="3.4" height="3.4" class="s_"/>
<rect x="383.8" y="138.3" width="3.4" height="3.4" class="s_"/>
<rect x="387.8" y="140.3" width="3.4" height="3.4" class="s_"/>
<rect x="385.3" y="144.3" width="3.4" height="3.4" class="s_"/>
<rect x="389.3" y="148.3" width="3.4" height="3.4" class="s_"/>
<rect x="386.3" y="153.3" width="3.4" height="3.4" class="s_"/>
<rect x="382.3" y="157.3" width="3.4" height="3.4" class="s_"/>
<rect x="382.3" y="125.7" width="3.4" height="3.4" class="s_"/>
<path d="M383.1 131.0l1.6 2.8h-3.2z" class="tr"/>
<rect x="387.7" y="125.7" width="3.4" height="3.4" class="s_"/>
<path d="M385.8 136.6l1.55 1.55l-1.55 1.55l-1.55 -1.55z" class="d"/>
<path d="M387.6 141.8l1.6 2.8h-3.2z" class="tr"/>
<rect x="389.5" y="134.7" width="3.4" height="3.4" class="s_"/>
<path d="M393.0 140.2l1.55 1.55l-1.55 1.55l-1.55 -1.55z" class="d"/>
<rect x="394.9" y="129.3" width="3.4" height="3.4" class="s_"/>
<path d="M397.5 125.6l1.6 2.8h-3.2z" class="tr"/>
<rect x="400.3" y="141.9" width="3.4" height="3.4" class="s_"/>
<path d="M389.4 147.4l1.55 1.55l-1.55 1.55l-1.55 -1.55z" class="d"/>
<path d="M394.8 149.0l1.6 2.8h-3.2z" class="tr"/>
<rect x="379.6" y="141.9" width="3.4" height="3.4" class="s_"/>
<path d="M380.4 138.4l1.55 1.55l-1.55 1.55l-1.55 -1.55z" class="d"/>
<circle cx="384.0" cy="127.4" r="0.9" fill="#0070c0"/>
<circle cx="391.2" cy="136.4" r="0.9" fill="#0070c0"/>
<circle cx="396.6" cy="131.0" r="0.9" fill="#0070c0"/>
<text transform="translate(360.20,169.00) scale(0.92,1)" text-anchor="end" class="t">0</text>
<text transform="translate(368.70,180.50) scale(0.92,1)" text-anchor="middle" class="t">0</text>
<text transform="translate(360.20,142.33) scale(0.92,1)" text-anchor="end" class="t">200</text>
<text transform="translate(396.70,180.50) scale(0.92,1)" text-anchor="middle" class="t">200</text>
<text transform="translate(360.20,115.67) scale(0.92,1)" text-anchor="end" class="t">400</text>
<text transform="translate(424.70,180.50) scale(0.92,1)" text-anchor="middle" class="t">400</text>
<text transform="translate(360.20,89.00) scale(0.92,1)" text-anchor="end" class="t">600</text>
<text transform="translate(452.70,180.50) scale(0.92,1)" text-anchor="middle" class="t">600</text>
<text transform="translate(360.20,62.33) scale(0.92,1)" text-anchor="end" class="t">800</text>
<text transform="translate(480.70,180.50) scale(0.92,1)" text-anchor="middle" class="t">800</text>
<text transform="translate(360.20,35.67) scale(0.92,1)" text-anchor="end" class="t">1000</text>
<text transform="translate(508.70,180.50) scale(0.92,1)" text-anchor="middle" class="t">1000</text>
<text transform="translate(360.20,9.00) scale(0.92,1)" text-anchor="end" class="t">1200</text>
<text transform="translate(536.70,180.50) scale(0.92,1)" text-anchor="middle" class="t">1200</text>
<text transform="translate(396.10,194.50) scale(1,1)" class="l lx">Observed Discharge&#160; (10<tspan class="s" dy="-3.6">6</tspan><tspan dy="3.6"> m</tspan><tspan class="s" dy="-3.6">3</tspan><tspan dy="3.6">)</tspan></text>
<text transform="translate(338.00,149.80) scale(1,1) rotate(-90)" class="l">Simulated&#160; Discharge&#160; (10<tspan class="s" dy="-3.6">6</tspan><tspan dy="3.6"> m</tspan><tspan class="s" dy="-3.6">3</tspan><tspan dy="3.6">)</tspan></text>
<rect x="437.50" y="19.20" width="54.20" height="13.30" fill="#fff" stroke="#333" stroke-width="1"/>
<text x="464.60" y="29.20" text-anchor="middle" class="g">S2-SVD-LM</text>
<path d="M41.50 213.90H211.00V372.60" fill="none" stroke="#404040" stroke-width="1.2"/>
<path d="M41.50 372.60H46.90M44.50 370.20V375.60M44.50 367.30H46.50M50.05 372.60V370.60M44.50 362.01H46.50M55.60 372.60V370.60M44.50 356.71H46.50M61.15 372.60V370.60M44.50 351.41H46.50M66.70 372.60V370.60M41.50 346.12H46.90M72.25 370.20V375.60M44.50 340.82H46.50M77.80 372.60V370.60M44.50 335.52H46.50M83.35 372.60V370.60M44.50 330.23H46.50M88.90 372.60V370.60M44.50 324.93H46.50M94.45 372.60V370.60M41.50 319.63H46.90M100.00 370.20V375.60M44.50 314.34H46.50M105.55 372.60V370.60M44.50 309.04H46.50M111.10 372.60V370.60M44.50 303.74H46.50M116.65 372.60V370.60M44.50 298.45H46.50M122.20 372.60V370.60M41.50 293.15H46.90M127.75 370.20V375.60M44.50 287.85H46.50M133.30 372.60V370.60M44.50 282.56H46.50M138.85 372.60V370.60M44.50 277.26H46.50M144.40 372.60V370.60M44.50 271.96H46.50M149.95 372.60V370.60M41.50 266.67H46.90M155.50 370.20V375.60M44.50 261.37H46.50M161.05 372.60V370.60M44.50 256.07H46.50M166.60 372.60V370.60M44.50 250.78H46.50M172.15 372.60V370.60M44.50 245.48H46.50M177.70 372.60V370.60M41.50 240.18H46.90M183.25 370.20V375.60M44.50 234.89H46.50M188.80 372.60V370.60M44.50 229.59H46.50M194.35 372.60V370.60M44.50 224.29H46.50M199.90 372.60V370.60M44.50 219.00H46.50M205.45 372.60V370.60M41.50 213.70H46.90M211.00 370.20V375.60" stroke="#222" stroke-width="1.1"/>
<path d="M44.50 213.70V372.60H211.00" fill="none" stroke="#2a2a2a" stroke-width="1.3"/>
<path d="M44.50 372.60L211.00 213.70" stroke="#111" stroke-width="1.15"/>
<polygon points="55,351 57,343 59,338 62,336 72,336 75,340 74.5,348 72,356 68,362 62,366 58,369" fill="#ffc000"/>
<polygon points="45.5,372 45.5,361 48,357 51,353.5 55,351 58,349.5 61,350 62,355 60,362 57,368 55,372" fill="#ffc000"/>
<circle cx="69.2" cy="256.7" r="1.85" class="o"/>
<circle cx="96.5" cy="261.5" r="1.85" class="o"/>
<path d="M98.4 266.2l1.6 2.8h-3.2z" class="tr"/>
<circle cx="140.9" cy="239.4" r="1.85" class="o"/>
<circle cx="158.7" cy="266.7" r="1.85" class="o"/>
<path d="M96.5 269.8l1.55 1.55l-1.55 1.55l-1.55 -1.55z" class="d"/>
<rect x="94.8" y="270.8" width="3.4" height="3.4" class="s_"/>
<path d="M96.5 275.7l1.6 2.8h-3.2z" class="tr"/>
<rect x="96.7" y="285.0" width="3.4" height="3.4" class="s_"/>
<path d="M98.9 289.3l1.55 1.55l-1.55 1.55l-1.55 -1.55z" class="d"/>
<circle cx="83.0" cy="296.0" r="1.85" class="o"/>
<path d="M81.1 297.1l1.55 1.55l-1.55 1.55l-1.55 -1.55z" class="d"/>
<path d="M81.1 299.2l1.6 2.8h-3.2z" class="tr"/>
<path d="M122.0 292.4l1.55 1.55l-1.55 1.55l-1.55 -1.55z" class="d"/>
<path d="M107.8 302.1l1.55 1.55l-1.55 1.55l-1.55 -1.55z" class="d"/>
<path d="M108.2 305.8l1.55 1.55l-1.55 1.55l-1.55 -1.55z" class="d"/>
<circle cx="112.5" cy="309.9" r="1.85" class="o"/>
<path d="M112.5 307.4l1.55 1.55l-1.55 1.55l-1.55 -1.55z" class="d"/>
<path d="M122.0 301.2l1.6 2.8h-3.2z" class="tr"/>
<circle cx="122.0" cy="307.1" r="1.85" class="o"/>
<path d="M71.5 306.6l1.55 1.55l-1.55 1.55l-1.55 -1.55z" class="d"/>
<path d="M78.3 306.8l1.55 1.55l-1.55 1.55l-1.55 -1.55z" class="d"/>
<path d="M78.3 308.1l1.6 2.8h-3.2z" class="tr"/>
<path d="M79.2 309.7l1.6 2.8h-3.2z" class="tr"/>
<circle cx="79.2" cy="315.3" r="1.85" class="o"/>
<rect x="67.8" y="312.9" width="3.4" height="3.4" class="s_"/>
<rect x="69.8" y="312.9" width="3.4" height="3.4" class="s_"/>
<circle cx="59.8" cy="314.6" r="1.85" class="o"/>
<circle cx="71.5" cy="320.7" r="1.85" class="o"/>
<rect x="77.5" y="318.3" width="3.4" height="3.4" class="s_"/>
<path d="M84.5 316.1l1.55 1.55l-1.55 1.55l-1.55 -1.55z" class="d"/>
<path d="M84.5 318.2l1.6 2.8h-3.2z" class="tr"/>
<circle cx="95.0" cy="314.6" r="1.85" class="o"/>
<rect x="96.7" y="314.4" width="3.4" height="3.4" class="s_"/>
<path d="M107.4 311.2l1.6 2.8h-3.2z" class="tr"/>
<circle cx="111.2" cy="315.3" r="1.85" class="o"/>
<path d="M107.4 316.1l1.55 1.55l-1.55 1.55l-1.55 -1.55z" class="d"/>
<rect x="105.7" y="318.3" width="3.4" height="3.4" class="s_"/>
<path d="M121.3 318.2l1.6 2.8h-3.2z" class="tr"/>
<path d="M112.0 317.6l1.55 1.55l-1.55 1.55l-1.55 -1.55z" class="d"/>
<path d="M96.5 317.4l1.6 2.8h-3.2z" class="tr"/>
<circle cx="128.7" cy="299.9" r="1.85" class="o"/>
<circle cx="160.2" cy="276.2" r="1.85" class="o"/>
<path d="M160.2 285.1l1.55 1.55l-1.55 1.55l-1.55 -1.55z" class="d"/>
<path d="M160.2 294.5l1.6 2.8h-3.2z" class="tr"/>
<rect x="158.5" y="305.9" width="3.4" height="3.4" class="s_"/>
<path d="M140.9 271.0l1.6 2.8h-3.2z" class="tr"/>
<rect x="138.8" y="275.8" width="3.4" height="3.4" class="s_"/>
<path d="M133.8 274.9l1.6 2.8h-3.2z" class="tr"/>
<path d="M133.8 286.4l1.55 1.55l-1.55 1.55l-1.55 -1.55z" class="d"/>
<path d="M140.9 292.1l1.55 1.55l-1.55 1.55l-1.55 -1.55z" class="d"/>
<circle cx="130.7" cy="299.9" r="1.85" class="o"/>
<rect x="132.1" y="298.2" width="3.4" height="3.4" class="s_"/>
<circle cx="133.8" cy="304.5" r="1.85" class="o"/>
<circle cx="134.3" cy="310.2" r="1.85" class="o"/>
<rect x="132.6" y="314.4" width="3.4" height="3.4" class="s_"/>
<path d="M134.3 314.3l1.6 2.8h-3.2z" class="tr"/>
<rect x="129.2" y="319.0" width="3.4" height="3.4" class="s_"/>
<rect x="149.3" y="298.2" width="3.4" height="3.4" class="s_"/>
<path d="M151.0 302.9l1.55 1.55l-1.55 1.55l-1.55 -1.55z" class="d"/>
<circle cx="151.0" cy="313.8" r="1.85" class="o"/>
<path d="M151.0 314.6l1.6 2.8h-3.2z" class="tr"/>
<rect x="129.0" y="319.8" width="3.4" height="3.4" class="s_"/>
<path d="M130.7 323.2l1.6 2.8h-3.2z" class="tr"/>
<path d="M130.7 324.1l1.55 1.55l-1.55 1.55l-1.55 -1.55z" class="d"/>
<circle cx="137.4" cy="329.7" r="1.85" class="o"/>
<rect x="135.7" y="359.7" width="3.4" height="3.4" class="s_"/>
<path d="M137.4 359.6l1.6 2.8h-3.2z" class="tr"/>
<path d="M137.4 361.6l1.55 1.55l-1.55 1.55l-1.55 -1.55z" class="d"/>
<rect x="157.0" y="357.8" width="3.4" height="3.4" class="s_"/>
<path d="M158.7 359.6l1.6 2.8h-3.2z" class="tr"/>
<circle cx="132.8" cy="301.0" r="1.85" class="o"/>
<path d="M77.7 306.9l1.55 1.55l-1.55 1.55l-1.55 -1.55z" class="d"/>
<path d="M79.0 308.1l1.6 2.8h-3.2z" class="tr"/>
<path d="M77.7 309.9l1.6 2.8h-3.2z" class="tr"/>
<path d="M79.5 311.8l1.55 1.55l-1.55 1.55l-1.55 -1.55z" class="d"/>
<path d="M84.4 316.3l1.55 1.55l-1.55 1.55l-1.55 -1.55z" class="d"/>
<path d="M84.4 317.4l1.6 2.8h-3.2z" class="tr"/>
<rect x="77.8" y="317.9" width="3.4" height="3.4" class="s_"/>
<circle cx="71.5" cy="321.0" r="1.85" class="o"/>
<circle cx="68.0" cy="324.1" r="1.85" class="o"/>
<path d="M70.6 322.7l1.6 2.8h-3.2z" class="tr"/>
<path d="M73.3 322.6l1.55 1.55l-1.55 1.55l-1.55 -1.55z" class="d"/>
<circle cx="85.7" cy="322.7" r="1.85" class="o"/>
<rect x="76.0" y="321.0" width="3.4" height="3.4" class="s_"/>
<rect x="79.6" y="321.0" width="3.4" height="3.4" class="s_"/>
<rect x="76.0" y="324.6" width="3.4" height="3.4" class="s_"/>
<path d="M89.3 324.5l1.6 2.8h-3.2z" class="tr"/>
<circle cx="89.3" cy="328.5" r="1.85" class="o"/>
<rect x="81.3" y="325.5" width="3.4" height="3.4" class="s_"/>
<rect x="83.1" y="326.4" width="3.4" height="3.4" class="s_"/>
<path d="M79.9 326.7l1.6 2.8h-3.2z" class="tr"/>
<path d="M64.9 326.1l1.55 1.55l-1.55 1.55l-1.55 -1.55z" class="d"/>
<circle cx="67.1" cy="327.2" r="1.85" class="o"/>
<path d="M67.1 327.6l1.6 2.8h-3.2z" class="tr"/>
<path d="M70.6 326.9l1.55 1.55l-1.55 1.55l-1.55 -1.55z" class="d"/>
<circle cx="73.3" cy="327.6" r="1.85" class="o"/>
<path d="M73.3 324.5l1.6 2.8h-3.2z" class="tr"/>
<path d="M73.3 329.6l1.55 1.55l-1.55 1.55l-1.55 -1.55z" class="d"/>
<rect x="73.8" y="327.8" width="3.4" height="3.4" class="s_"/>
<path d="M65.3 329.8l1.6 2.8h-3.2z" class="tr"/>
<rect x="64.8" y="330.1" width="3.4" height="3.4" class="s_"/>
<circle cx="61.7" cy="334.7" r="1.85" class="o"/>
<path d="M69.7 332.8l1.55 1.55l-1.55 1.55l-1.55 -1.55z" class="d"/>
<circle cx="75.1" cy="333.8" r="1.85" class="o"/>
<rect x="78.7" y="331.7" width="3.4" height="3.4" class="s_"/>
<path d="M79.5 334.1l1.55 1.55l-1.55 1.55l-1.55 -1.55z" class="d"/>
<rect x="87.6" y="331.7" width="3.4" height="3.4" class="s_"/>
<rect x="57.4" y="335.3" width="3.4" height="3.4" class="s_"/>
<rect x="62.7" y="335.3" width="3.4" height="3.4" class="s_"/>
<rect x="68.9" y="335.3" width="3.4" height="3.4" class="s_"/>
<circle cx="74.2" cy="336.5" r="1.85" class="o"/>
<path d="M60.4 336.9l1.6 2.8h-3.2z" class="tr"/>
<path d="M77.7 337.1l1.55 1.55l-1.55 1.55l-1.55 -1.55z" class="d"/>
<rect x="79.6" y="337.0" width="3.4" height="3.4" class="s_"/>
<circle cx="84.8" cy="337.8" r="1.85" class="o"/>
<circle cx="88.4" cy="337.0" r="1.85" class="o"/>
<rect x="86.7" y="337.0" width="3.4" height="3.4" class="s_"/>
<rect x="67.6" y="313.1" width="3.4" height="3.4" class="s_"/>
<path d="M70.0 312.7l1.6 2.8h-3.2z" class="tr"/>
<path d="M54.8 343.3l1.55 1.55l-1.55 1.55l-1.55 -1.55z" class="d"/>
<path d="M52.3 349.2l1.55 1.55l-1.55 1.55l-1.55 -1.55z" class="d"/>
<path d="M57.0 342.9l1.55 1.55l-1.55 1.55l-1.55 -1.55z" class="d"/>
<path d="M60.0 342.7l1.6 2.8h-3.2z" class="tr"/>
<rect x="58.0" y="337.2" width="3.4" height="3.4" class="s_"/>
<rect x="61.9" y="337.2" width="3.4" height="3.4" class="s_"/>
<rect x="66.9" y="337.2" width="3.4" height="3.4" class="s_"/>
<circle cx="74.5" cy="336.0" r="1.85" class="o"/>
<circle cx="70.5" cy="343.9" r="1.85" class="o"/>
<path d="M73.5 341.6l1.6 2.8h-3.2z" class="tr"/>
<path d="M77.4 340.3l1.55 1.55l-1.55 1.55l-1.55 -1.55z" class="d"/>
<circle cx="82.4" cy="345.8" r="1.85" class="o"/>
<circle cx="78.4" cy="350.8" r="1.85" class="o"/>
<rect x="81.6" y="349.6" width="3.4" height="3.4" class="s_"/>
<circle cx="79.4" cy="348.5" r="1.85" class="o"/>
<path d="M71.5 345.5l1.6 2.8h-3.2z" class="tr"/>
<rect x="70.8" y="350.0" width="3.4" height="3.4" class="s_"/>
<path d="M74.5 353.1l1.55 1.55l-1.55 1.55l-1.55 -1.55z" class="d"/>
<path d="M69.6 356.8l1.6 2.8h-3.2z" class="tr"/>
<rect x="72.8" y="356.0" width="3.4" height="3.4" class="s_"/>
<rect x="74.8" y="358.9" width="3.4" height="3.4" class="s_"/>
<path d="M79.4 359.3l1.6 2.8h-3.2z" class="tr"/>
<rect x="81.2" y="359.9" width="3.4" height="3.4" class="s_"/>
<path d="M82.9 355.9l1.6 2.8h-3.2z" class="tr"/>
<path d="M82.4 353.1l1.55 1.55l-1.55 1.55l-1.55 -1.55z" class="d"/>
<circle cx="74.0" cy="365.0" r="1.85" class="o"/>
<path d="M74.0 361.7l1.6 2.8h-3.2z" class="tr"/>
<path d="M74.0 370.6l1.6 2.8h-3.2z" class="tr"/>
<rect x="84.6" y="348.1" width="3.4" height="3.4" class="s_"/>
<circle cx="64.6" cy="361.6" r="0.9" fill="#0070c0"/>
<circle cx="59.7" cy="354.7" r="0.9" fill="#0070c0"/>
<circle cx="64.1" cy="354.7" r="0.9" fill="#0070c0"/>
<circle cx="55.0" cy="357.0" r="0.9" fill="#0070c0"/>
<rect x="60.3" y="342.3" width="3.4" height="3.4" class="s_"/>
<rect x="64.3" y="343.3" width="3.4" height="3.4" class="s_"/>
<circle cx="46.9" cy="368.5" r="0.9" fill="#ff0000"/>
<circle cx="48.0" cy="369.5" r="0.9" fill="#ff0000"/>
<path d="M107.2 311.0l1.6 2.8h-3.2z" class="tr"/>
<circle cx="111.1" cy="314.8" r="1.85" class="o"/>
<circle cx="95.4" cy="314.8" r="1.85" class="o"/>
<rect x="96.6" y="314.1" width="3.4" height="3.4" class="s_"/>
<path d="M94.9 316.6l1.55 1.55l-1.55 1.55l-1.55 -1.55z" class="d"/>
<circle cx="98.8" cy="317.7" r="1.85" class="o"/>
<path d="M97.8 318.9l1.6 2.8h-3.2z" class="tr"/>
<path d="M106.7 316.1l1.55 1.55l-1.55 1.55l-1.55 -1.55z" class="d"/>
<rect x="105.0" y="319.0" width="3.4" height="3.4" class="s_"/>
<path d="M112.6 315.9l1.6 2.8h-3.2z" class="tr"/>
<path d="M112.1 318.1l1.55 1.55l-1.55 1.55l-1.55 -1.55z" class="d"/>
<path d="M94.9 320.4l1.6 2.8h-3.2z" class="tr"/>
<circle cx="87.0" cy="323.2" r="1.85" class="o"/>
<path d="M89.4 324.3l1.6 2.8h-3.2z" class="tr"/>
<rect x="105.0" y="322.4" width="3.4" height="3.4" class="s_"/>
<path d="M112.6 321.8l1.6 2.8h-3.2z" class="tr"/>
<circle cx="112.6" cy="324.2" r="1.85" class="o"/>
<rect x="105.5" y="325.4" width="3.4" height="3.4" class="s_"/>
<rect x="110.4" y="324.4" width="3.4" height="3.4" class="s_"/>
<path d="M98.8 323.8l1.6 2.8h-3.2z" class="tr"/>
<rect x="97.1" y="324.8" width="3.4" height="3.4" class="s_"/>
<path d="M121.0 318.4l1.6 2.8h-3.2z" class="tr"/>
<path d="M130.8 323.3l1.6 2.8h-3.2z" class="tr"/>
<circle cx="121.0" cy="326.6" r="1.85" class="o"/>
<path d="M121.5 328.1l1.55 1.55l-1.55 1.55l-1.55 -1.55z" class="d"/>
<rect x="119.8" y="329.8" width="3.4" height="3.4" class="s_"/>
<circle cx="102.7" cy="332.5" r="1.85" class="o"/>
<rect x="94.2" y="326.9" width="3.4" height="3.4" class="s_"/>
<path d="M95.9 327.1l1.55 1.55l-1.55 1.55l-1.55 -1.55z" class="d"/>
<path d="M95.9 328.2l1.6 2.8h-3.2z" class="tr"/>
<rect x="97.1" y="327.9" width="3.4" height="3.4" class="s_"/>
<rect x="87.7" y="330.8" width="3.4" height="3.4" class="s_"/>
<rect x="94.2" y="332.8" width="3.4" height="3.4" class="s_"/>
<circle cx="111.1" cy="329.6" r="1.85" class="o"/>
<rect x="109.4" y="330.8" width="3.4" height="3.4" class="s_"/>
<path d="M111.1 332.2l1.6 2.8h-3.2z" class="tr"/>
<circle cx="89.4" cy="336.5" r="1.85" class="o"/>
<rect x="94.2" y="336.2" width="3.4" height="3.4" class="s_"/>
<rect x="110.9" y="335.7" width="3.4" height="3.4" class="s_"/>
<path d="M133.3 314.5l1.6 2.8h-3.2z" class="tr"/>
<rect x="94.2" y="334.8" width="3.4" height="3.4" class="s_"/>
<rect x="96.1" y="336.7" width="3.4" height="3.4" class="s_"/>
<path d="M95.9 338.6l1.6 2.8h-3.2z" class="tr"/>
<rect x="109.4" y="338.2" width="3.4" height="3.4" class="s_"/>
<rect x="112.4" y="339.2" width="3.4" height="3.4" class="s_"/>
<path d="M114.1 341.6l1.6 2.8h-3.2z" class="tr"/>
<path d="M111.6 335.9l1.55 1.55l-1.55 1.55l-1.55 -1.55z" class="d"/>
<circle cx="98.8" cy="344.4" r="1.85" class="o"/>
<rect x="94.2" y="346.6" width="3.4" height="3.4" class="s_"/>
<path d="M95.9 349.5l1.6 2.8h-3.2z" class="tr"/>
<path d="M95.9 347.9l1.55 1.55l-1.55 1.55l-1.55 -1.55z" class="d"/>
<rect x="101.0" y="347.1" width="3.4" height="3.4" class="s_"/>
<path d="M102.7 347.0l1.6 2.8h-3.2z" class="tr"/>
<rect x="94.2" y="355.0" width="3.4" height="3.4" class="s_"/>
<circle cx="88.0" cy="337.0" r="1.85" class="o"/>
<rect x="86.3" y="337.2" width="3.4" height="3.4" class="s_"/>
<path d="M88.0 340.8l1.55 1.55l-1.55 1.55l-1.55 -1.55z" class="d"/>
<path d="M88.0 344.0l1.6 2.8h-3.2z" class="tr"/>
<circle cx="87.5" cy="349.8" r="1.85" class="o"/>
<rect x="86.3" y="351.0" width="3.4" height="3.4" class="s_"/>
<circle cx="64.4" cy="345.2" r="0.9" fill="#0070c0"/>
<circle cx="62.3" cy="351.0" r="0.9" fill="#0070c0"/>
<circle cx="69.6" cy="360.7" r="0.9" fill="#0070c0"/>
<circle cx="57.0" cy="352.0" r="0.9" fill="#0070c0"/>
<circle cx="60.0" cy="364.0" r="0.9" fill="#0070c0"/>
<path d="M82.4 344.6l1.6 2.8h-3.2z" class="tr"/>
<path d="M84.8 342.4l1.55 1.55l-1.55 1.55l-1.55 -1.55z" class="d"/>
<path d="M86.4 337.4l1.6 2.8h-3.2z" class="tr"/>
<circle cx="88.0" cy="348.0" r="1.85" class="o"/>
<path d="M82.4 354.2l1.6 2.8h-3.2z" class="tr"/>
<path d="M81.6 353.2l1.55 1.55l-1.55 1.55l-1.55 -1.55z" class="d"/>
<path d="M83.2 356.6l1.6 2.8h-3.2z" class="tr"/>
<rect x="81.5" y="359.9" width="3.4" height="3.4" class="s_"/>
<path d="M79.2 359.8l1.6 2.8h-3.2z" class="tr"/>
<circle cx="72.8" cy="364.0" r="1.85" class="o"/>
<path d="M70.4 340.8l1.55 1.55l-1.55 1.55l-1.55 -1.55z" class="d"/>
<circle cx="70.4" cy="344.5" r="1.85" class="o"/>
<path d="M72.0 345.4l1.6 2.8h-3.2z" class="tr"/>
<path d="M68.0 345.4l1.6 2.8h-3.2z" class="tr"/>
<circle cx="59.2" cy="352.0" r="0.9" fill="#0070c0"/>
<circle cx="64.0" cy="353.6" r="0.9" fill="#0070c0"/>
<circle cx="64.8" cy="361.6" r="0.9" fill="#0070c0"/>
<circle cx="68.0" cy="352.0" r="0.9" fill="#0070c0"/>
<circle cx="59.2" cy="338.4" r="0.9" fill="#0070c0"/>
<circle cx="64.0" cy="340.8" r="0.9" fill="#0070c0"/>
<circle cx="64.0" cy="344.8" r="0.9" fill="#0070c0"/>
<path d="M57.6 343.2l1.55 1.55l-1.55 1.55l-1.55 -1.55z" class="d"/>
<circle cx="61.0" cy="358.0" r="0.9" fill="#00b050"/>
<circle cx="66.0" cy="357.0" r="0.9" fill="#ff0000"/>
<text transform="translate(36.40,375.80) scale(0.92,1)" text-anchor="end" class="t">0</text>
<text transform="translate(44.90,387.30) scale(0.92,1)" text-anchor="middle" class="t">0</text>
<text transform="translate(36.40,349.32) scale(0.92,1)" text-anchor="end" class="t">200</text>
<text transform="translate(72.65,387.30) scale(0.92,1)" text-anchor="middle" class="t">200</text>
<text transform="translate(36.40,322.83) scale(0.92,1)" text-anchor="end" class="t">400</text>
<text transform="translate(100.40,387.30) scale(0.92,1)" text-anchor="middle" class="t">400</text>
<text transform="translate(36.40,296.35) scale(0.92,1)" text-anchor="end" class="t">600</text>
<text transform="translate(128.15,387.30) scale(0.92,1)" text-anchor="middle" class="t">600</text>
<text transform="translate(36.40,269.87) scale(0.92,1)" text-anchor="end" class="t">800</text>
<text transform="translate(155.90,387.30) scale(0.92,1)" text-anchor="middle" class="t">800</text>
<text transform="translate(36.40,243.38) scale(0.92,1)" text-anchor="end" class="t">1000</text>
<text transform="translate(183.65,387.30) scale(0.92,1)" text-anchor="middle" class="t">1000</text>
<text transform="translate(36.40,216.90) scale(0.92,1)" text-anchor="end" class="t">1200</text>
<text transform="translate(211.40,387.30) scale(0.92,1)" text-anchor="middle" class="t">1200</text>
<text transform="translate(78.40,401.10) scale(1,1)" class="l lx">Observed Discharge&#160; (10<tspan class="s" dy="-3.6">6</tspan><tspan dy="3.6"> m</tspan><tspan class="s" dy="-3.6">3</tspan><tspan dy="3.6">)</tspan></text>
<text transform="translate(14.20,352.80) scale(1,1) rotate(-90)" class="l">Simulated&#160; Discharge&#160; (10<tspan class="s" dy="-3.6">6</tspan><tspan dy="3.6"> m</tspan><tspan class="s" dy="-3.6">3</tspan><tspan dy="3.6">)</tspan></text>
<rect x="73.60" y="219.90" width="76.40" height="13.30" fill="#fff" stroke="#333" stroke-width="1"/>
<text x="111.80" y="229.90" text-anchor="middle" class="g">S2-PCA-NSGA-II</text>
<path d="M362.90 214.80H538.20V373.50" fill="none" stroke="#404040" stroke-width="1.2"/>
<path d="M362.90 373.50H368.30M365.90 371.10V376.50M365.90 368.20H367.90M371.64 373.50V371.50M365.90 362.91H367.90M377.39 373.50V371.50M365.90 357.61H367.90M383.13 373.50V371.50M365.90 352.31H367.90M388.87 373.50V371.50M362.90 347.02H368.30M394.62 371.10V376.50M365.90 341.72H367.90M400.36 373.50V371.50M365.90 336.42H367.90M406.10 373.50V371.50M365.90 331.13H367.90M411.85 373.50V371.50M365.90 325.83H367.90M417.59 373.50V371.50M362.90 320.53H368.30M423.33 371.10V376.50M365.90 315.24H367.90M429.08 373.50V371.50M365.90 309.94H367.90M434.82 373.50V371.50M365.90 304.64H367.90M440.56 373.50V371.50M365.90 299.35H367.90M446.31 373.50V371.50M362.90 294.05H368.30M452.05 371.10V376.50M365.90 288.75H367.90M457.79 373.50V371.50M365.90 283.46H367.90M463.54 373.50V371.50M365.90 278.16H367.90M469.28 373.50V371.50M365.90 272.86H367.90M475.02 373.50V371.50M362.90 267.57H368.30M480.77 371.10V376.50M365.90 262.27H367.90M486.51 373.50V371.50M365.90 256.97H367.90M492.25 373.50V371.50M365.90 251.68H367.90M498.00 373.50V371.50M365.90 246.38H367.90M503.74 373.50V371.50M362.90 241.08H368.30M509.48 371.10V376.50M365.90 235.79H367.90M515.23 373.50V371.50M365.90 230.49H367.90M520.97 373.50V371.50M365.90 225.19H367.90M526.71 373.50V371.50M365.90 219.90H367.90M532.46 373.50V371.50M362.90 214.60H368.30M538.20 371.10V376.50" stroke="#222" stroke-width="1.1"/>
<path d="M365.90 214.60V373.50H538.20" fill="none" stroke="#2a2a2a" stroke-width="1.3"/>
<path d="M365.90 373.50L538.20 214.60" stroke="#111" stroke-width="1.15"/>
<polygon points="367,358 372,348 377,341 383,335 390,330 396,330 397,340 393,350 388,358 383,365 375,368" fill="#ffd560"/>
<polygon points="367,369 367,360 370,356 374,352 378,350 382,351 381,358 379,364 375,367" fill="#ffc000"/>
<polygon points="367,366 378,365.3 384,366.3 381,369 367,369.5" fill="#0070c0"/>
<path d="M419.8 252.0l1.55 1.55l-1.55 1.55l-1.55 -1.55z" class="d"/>
<path d="M419.3 262.0l1.6 2.8h-3.2z" class="tr"/>
<path d="M422.4 262.8l1.6 2.8h-3.2z" class="tr"/>
<circle cx="465.7" cy="260.7" r="1.85" class="o"/>
<path d="M465.7 263.1l1.6 2.8h-3.2z" class="tr"/>
<path d="M458.0 263.1l1.6 2.8h-3.2z" class="tr"/>
<rect x="417.6" y="278.5" width="3.4" height="3.4" class="s_"/>
<path d="M422.4 280.8l1.55 1.55l-1.55 1.55l-1.55 -1.55z" class="d"/>
<circle cx="392.0" cy="285.5" r="1.85" class="o"/>
<circle cx="419.8" cy="291.1" r="1.85" class="o"/>
<path d="M404.3 289.3l1.6 2.8h-3.2z" class="tr"/>
<path d="M401.5 296.8l1.55 1.55l-1.55 1.55l-1.55 -1.55z" class="d"/>
<rect x="420.7" y="297.1" width="3.4" height="3.4" class="s_"/>
<path d="M445.6 293.2l1.55 1.55l-1.55 1.55l-1.55 -1.55z" class="d"/>
<path d="M431.7 300.6l1.55 1.55l-1.55 1.55l-1.55 -1.55z" class="d"/>
<path d="M433.5 301.8l1.55 1.55l-1.55 1.55l-1.55 -1.55z" class="d"/>
<path d="M436.5 304.3l1.55 1.55l-1.55 1.55l-1.55 -1.55z" class="d"/>
<circle cx="445.8" cy="306.4" r="1.85" class="o"/>
<path d="M401.5 304.2l1.6 2.8h-3.2z" class="tr"/>
<rect x="392.6" y="306.4" width="3.4" height="3.4" class="s_"/>
<path d="M394.3 306.6l1.55 1.55l-1.55 1.55l-1.55 -1.55z" class="d"/>
<path d="M402.8 309.1l1.55 1.55l-1.55 1.55l-1.55 -1.55z" class="d"/>
<circle cx="403.1" cy="312.2" r="1.85" class="o"/>
<path d="M407.0 312.2l1.55 1.55l-1.55 1.55l-1.55 -1.55z" class="d"/>
<circle cx="405.5" cy="313.5" r="1.85" class="o"/>
<rect x="391.3" y="312.5" width="3.4" height="3.4" class="s_"/>
<circle cx="436.5" cy="312.3" r="1.85" class="o"/>
<path d="M445.8 311.5l1.6 2.8h-3.2z" class="tr"/>
<rect x="420.5" y="312.6" width="3.4" height="3.4" class="s_"/>
<path d="M422.2 311.9l1.55 1.55l-1.55 1.55l-1.55 -1.55z" class="d"/>
<path d="M403.1 315.1l1.6 2.8h-3.2z" class="tr"/>
<path d="M407.7 316.6l1.6 2.8h-3.2z" class="tr"/>
<circle cx="382.7" cy="320.0" r="1.85" class="o"/>
<rect x="399.8" y="318.7" width="3.4" height="3.4" class="s_"/>
<circle cx="418.6" cy="320.0" r="1.85" class="o"/>
<path d="M418.6 316.8l1.55 1.55l-1.55 1.55l-1.55 -1.55z" class="d"/>
<path d="M422.4 318.6l1.6 2.8h-3.2z" class="tr"/>
<rect x="427.7" y="315.9" width="3.4" height="3.4" class="s_"/>
<path d="M434.0 314.3l1.6 2.8h-3.2z" class="tr"/>
<path d="M458.4 272.6l1.55 1.55l-1.55 1.55l-1.55 -1.55z" class="d"/>
<rect x="464.4" y="278.1" width="3.4" height="3.4" class="s_"/>
<path d="M466.1 281.3l1.55 1.55l-1.55 1.55l-1.55 -1.55z" class="d"/>
<circle cx="484.2" cy="281.8" r="1.85" class="o"/>
<path d="M485.3 280.0l1.6 2.8h-3.2z" class="tr"/>
<path d="M475.7 291.3l1.55 1.55l-1.55 1.55l-1.55 -1.55z" class="d"/>
<circle cx="485.3" cy="293.7" r="1.85" class="o"/>
<rect x="456.7" y="297.1" width="3.4" height="3.4" class="s_"/>
<rect x="474.0" y="302.3" width="3.4" height="3.4" class="s_"/>
<rect x="483.6" y="301.3" width="3.4" height="3.4" class="s_"/>
<circle cx="458.4" cy="308.1" r="1.85" class="o"/>
<path d="M458.4 307.7l1.6 2.8h-3.2z" class="tr"/>
<rect x="456.7" y="310.5" width="3.4" height="3.4" class="s_"/>
<path d="M458.4 311.1l1.55 1.55l-1.55 1.55l-1.55 -1.55z" class="d"/>
<circle cx="455.3" cy="312.2" r="1.85" class="o"/>
<rect x="453.6" y="312.9" width="3.4" height="3.4" class="s_"/>
<path d="M475.7 308.9l1.6 2.8h-3.2z" class="tr"/>
<circle cx="475.7" cy="312.7" r="1.85" class="o"/>
<path d="M455.3 319.7l1.6 2.8h-3.2z" class="tr"/>
<path d="M455.3 320.9l1.6 2.8h-3.2z" class="tr"/>
<path d="M455.3 325.1l1.55 1.55l-1.55 1.55l-1.55 -1.55z" class="d"/>
<circle cx="462.6" cy="349.0" r="1.85" class="o"/>
<path d="M462.6 359.1l1.55 1.55l-1.55 1.55l-1.55 -1.55z" class="d"/>
<rect x="460.9" y="362.0" width="3.4" height="3.4" class="s_"/>
<path d="M462.6 361.2l1.6 2.8h-3.2z" class="tr"/>
<path d="M484.2 355.1l1.55 1.55l-1.55 1.55l-1.55 -1.55z" class="d"/>
<path d="M484.2 357.2l1.6 2.8h-3.2z" class="tr"/>
<rect x="482.5" y="360.4" width="3.4" height="3.4" class="s_"/>
<path d="M402.8 309.3l1.55 1.55l-1.55 1.55l-1.55 -1.55z" class="d"/>
<path d="M403.7 312.6l1.6 2.8h-3.2z" class="tr"/>
<path d="M408.1 315.3l1.6 2.8h-3.2z" class="tr"/>
<rect x="399.3" y="319.8" width="3.4" height="3.4" class="s_"/>
<path d="M394.4 320.6l1.6 2.8h-3.2z" class="tr"/>
<path d="M388.6 322.8l1.6 2.8h-3.2z" class="tr"/>
<path d="M387.7 324.4l1.55 1.55l-1.55 1.55l-1.55 -1.55z" class="d"/>
<path d="M390.4 325.1l1.6 2.8h-3.2z" class="tr"/>
<path d="M393.1 322.6l1.55 1.55l-1.55 1.55l-1.55 -1.55z" class="d"/>
<path d="M397.5 323.7l1.6 2.8h-3.2z" class="tr"/>
<path d="M397.0 328.8l1.55 1.55l-1.55 1.55l-1.55 -1.55z" class="d"/>
<path d="M393.9 326.8l1.6 2.8h-3.2z" class="tr"/>
<rect x="401.1" y="322.5" width="3.4" height="3.4" class="s_"/>
<path d="M402.8 326.1l1.55 1.55l-1.55 1.55l-1.55 -1.55z" class="d"/>
<path d="M404.6 326.8l1.6 2.8h-3.2z" class="tr"/>
<path d="M408.1 322.4l1.6 2.8h-3.2z" class="tr"/>
<circle cx="408.1" cy="327.7" r="1.85" class="o"/>
<circle cx="383.7" cy="330.0" r="1.85" class="o"/>
<rect x="379.4" y="329.6" width="3.4" height="3.4" class="s_"/>
<path d="M386.0 331.3l1.6 2.8h-3.2z" class="tr"/>
<rect x="386.9" y="332.3" width="3.4" height="3.4" class="s_"/>
<circle cx="393.9" cy="334.0" r="1.85" class="o"/>
<circle cx="396.2" cy="335.7" r="1.85" class="o"/>
<circle cx="403.7" cy="335.7" r="1.85" class="o"/>
<rect x="402.0" y="331.8" width="3.4" height="3.4" class="s_"/>
<path d="M381.1 334.8l1.6 2.8h-3.2z" class="tr"/>
<rect x="381.6" y="334.9" width="3.4" height="3.4" class="s_"/>
<rect x="386.9" y="336.7" width="3.4" height="3.4" class="s_"/>
<path d="M386.0 336.8l1.55 1.55l-1.55 1.55l-1.55 -1.55z" class="d"/>
<rect x="391.4" y="337.6" width="3.4" height="3.4" class="s_"/>
<path d="M400.2 337.8l1.55 1.55l-1.55 1.55l-1.55 -1.55z" class="d"/>
<path d="M405.5 335.7l1.6 2.8h-3.2z" class="tr"/>
<rect x="405.6" y="336.7" width="3.4" height="3.4" class="s_"/>
<rect x="375.8" y="340.3" width="3.4" height="3.4" class="s_"/>
<path d="M384.2 339.3l1.6 2.8h-3.2z" class="tr"/>
<path d="M387.7 340.8l1.55 1.55l-1.55 1.55l-1.55 -1.55z" class="d"/>
<circle cx="396.6" cy="342.0" r="1.85" class="o"/>
<path d="M401.0 340.2l1.6 2.8h-3.2z" class="tr"/>
<path d="M402.8 339.1l1.55 1.55l-1.55 1.55l-1.55 -1.55z" class="d"/>
<rect x="404.7" y="341.1" width="3.4" height="3.4" class="s_"/>
<rect x="371.8" y="343.8" width="3.4" height="3.4" class="s_"/>
<rect x="376.1" y="340.5" width="3.4" height="3.4" class="s_"/>
<path d="M382.5 342.7l1.6 2.8h-3.2z" class="tr"/>
<rect x="372.3" y="345.7" width="3.4" height="3.4" class="s_"/>
<path d="M394.6 344.8l1.55 1.55l-1.55 1.55l-1.55 -1.55z" class="d"/>
<circle cx="397.4" cy="347.8" r="1.85" class="o"/>
<path d="M396.5 349.3l1.6 2.8h-3.2z" class="tr"/>
<circle cx="394.0" cy="350.0" r="1.85" class="o"/>
<path d="M402.1 349.3l1.6 2.8h-3.2z" class="tr"/>
<path d="M404.0 353.2l1.55 1.55l-1.55 1.55l-1.55 -1.55z" class="d"/>
<rect x="395.7" y="353.1" width="3.4" height="3.4" class="s_"/>
<rect x="401.3" y="356.9" width="3.4" height="3.4" class="s_"/>
<path d="M397.0 361.5l1.6 2.8h-3.2z" class="tr"/>
<rect x="395.3" y="360.2" width="3.4" height="3.4" class="s_"/>
<path d="M396.5 358.9l1.55 1.55l-1.55 1.55l-1.55 -1.55z" class="d"/>
<path d="M397.4 372.7l1.6 2.8h-3.2z" class="tr"/>
<path d="M406.8 353.0l1.6 2.8h-3.2z" class="tr"/>
<circle cx="376.8" cy="355.8" r="0.9" fill="#0070c0"/>
<circle cx="373.1" cy="353.0" r="0.9" fill="#0070c0"/>
<circle cx="371.0" cy="360.0" r="0.9" fill="#0070c0"/>
<rect x="387.3" y="344.3" width="3.4" height="3.4" class="s_"/>
<rect x="383.3" y="350.3" width="3.4" height="3.4" class="s_"/>
<path d="M407.9 317.4l1.6 2.8h-3.2z" class="tr"/>
<circle cx="406.0" cy="313.3" r="1.85" class="o"/>
<circle cx="417.8" cy="320.7" r="1.85" class="o"/>
<path d="M422.7 319.4l1.6 2.8h-3.2z" class="tr"/>
<path d="M419.2 322.8l1.6 2.8h-3.2z" class="tr"/>
<path d="M423.2 323.1l1.55 1.55l-1.55 1.55l-1.55 -1.55z" class="d"/>
<rect x="428.4" y="317.0" width="3.4" height="3.4" class="s_"/>
<path d="M430.1 319.4l1.6 2.8h-3.2z" class="tr"/>
<rect x="428.4" y="321.0" width="3.4" height="3.4" class="s_"/>
<path d="M434.5 314.5l1.6 2.8h-3.2z" class="tr"/>
<path d="M437.0 317.6l1.55 1.55l-1.55 1.55l-1.55 -1.55z" class="d"/>
<rect x="434.3" y="320.5" width="3.4" height="3.4" class="s_"/>
<path d="M436.5 322.3l1.6 2.8h-3.2z" class="tr"/>
<rect x="435.3" y="325.9" width="3.4" height="3.4" class="s_"/>
<path d="M445.3 321.6l1.55 1.55l-1.55 1.55l-1.55 -1.55z" class="d"/>
<rect x="443.6" y="323.9" width="3.4" height="3.4" class="s_"/>
<rect x="443.6" y="327.4" width="3.4" height="3.4" class="s_"/>
<circle cx="445.8" cy="335.0" r="1.85" class="o"/>
<circle cx="426.6" cy="328.6" r="1.85" class="o"/>
<circle cx="432.5" cy="329.1" r="1.85" class="o"/>
<circle cx="424.5" cy="327.5" r="1.85" class="o"/>
<path d="M412.8 322.6l1.55 1.55l-1.55 1.55l-1.55 -1.55z" class="d"/>
<rect x="406.2" y="321.9" width="3.4" height="3.4" class="s_"/>
<path d="M404.0 325.8l1.6 2.8h-3.2z" class="tr"/>
<circle cx="408.9" cy="328.1" r="1.85" class="o"/>
<rect x="402.3" y="322.9" width="3.4" height="3.4" class="s_"/>
<rect x="402.3" y="327.9" width="3.4" height="3.4" class="s_"/>
<circle cx="411.9" cy="331.5" r="1.85" class="o"/>
<rect x="418.0" y="327.9" width="3.4" height="3.4" class="s_"/>
<path d="M420.7 330.7l1.6 2.8h-3.2z" class="tr"/>
<rect x="419.0" y="332.8" width="3.4" height="3.4" class="s_"/>
<circle cx="422.7" cy="336.5" r="1.85" class="o"/>
<path d="M427.1 336.1l1.6 2.8h-3.2z" class="tr"/>
<path d="M434.5 332.2l1.6 2.8h-3.2z" class="tr"/>
<path d="M434.5 332.9l1.55 1.55l-1.55 1.55l-1.55 -1.55z" class="d"/>
<rect x="433.8" y="335.7" width="3.4" height="3.4" class="s_"/>
<rect x="410.2" y="333.8" width="3.4" height="3.4" class="s_"/>
<path d="M412.8 336.1l1.6 2.8h-3.2z" class="tr"/>
<path d="M418.7 328.9l1.55 1.55l-1.55 1.55l-1.55 -1.55z" class="d"/>
<path d="M434.5 328.9l1.55 1.55l-1.55 1.55l-1.55 -1.55z" class="d"/>
<path d="M427.1 337.6l1.6 2.8h-3.2z" class="tr"/>
<rect x="418.0" y="334.3" width="3.4" height="3.4" class="s_"/>
<circle cx="419.7" cy="341.9" r="1.85" class="o"/>
<path d="M419.7 344.2l1.55 1.55l-1.55 1.55l-1.55 -1.55z" class="d"/>
<rect x="418.0" y="347.6" width="3.4" height="3.4" class="s_"/>
<rect x="417.5" y="354.5" width="3.4" height="3.4" class="s_"/>
<path d="M427.1 345.2l1.55 1.55l-1.55 1.55l-1.55 -1.55z" class="d"/>
<rect x="425.4" y="349.1" width="3.4" height="3.4" class="s_"/>
<rect x="433.3" y="335.8" width="3.4" height="3.4" class="s_"/>
<circle cx="438.0" cy="340.9" r="1.85" class="o"/>
<circle cx="445.8" cy="336.0" r="1.85" class="o"/>
<path d="M411.9 343.8l1.55 1.55l-1.55 1.55l-1.55 -1.55z" class="d"/>
<path d="M409.9 345.0l1.6 2.8h-3.2z" class="tr"/>
<rect x="410.2" y="348.1" width="3.4" height="3.4" class="s_"/>
<circle cx="411.9" cy="351.3" r="1.85" class="o"/>
<rect x="404.2" y="348.6" width="3.4" height="3.4" class="s_"/>
<path d="M405.9 355.9l1.6 2.8h-3.2z" class="tr"/>
<path d="M403.0 353.1l1.55 1.55l-1.55 1.55l-1.55 -1.55z" class="d"/>
<rect x="401.3" y="356.9" width="3.4" height="3.4" class="s_"/>
<rect x="406.2" y="337.2" width="3.4" height="3.4" class="s_"/>
<path d="M405.0 340.1l1.6 2.8h-3.2z" class="tr"/>
<path d="M419.2 371.1l1.6 2.8h-3.2z" class="tr"/>
<rect x="370.3" y="348.3" width="3.4" height="3.4" class="s_"/>
<rect x="374.3" y="344.3" width="3.4" height="3.4" class="s_"/>
<rect x="378.3" y="341.3" width="3.4" height="3.4" class="s_"/>
<rect x="383.3" y="337.3" width="3.4" height="3.4" class="s_"/>
<rect x="387.3" y="334.3" width="3.4" height="3.4" class="s_"/>
<rect x="391.3" y="331.3" width="3.4" height="3.4" class="s_"/>
<rect x="384.3" y="345.3" width="3.4" height="3.4" class="s_"/>
<rect x="388.3" y="341.3" width="3.4" height="3.4" class="s_"/>
<rect x="382.3" y="353.3" width="3.4" height="3.4" class="s_"/>
<rect x="386.3" y="349.3" width="3.4" height="3.4" class="s_"/>
<rect x="379.3" y="358.3" width="3.4" height="3.4" class="s_"/>
<rect x="375.3" y="354.3" width="3.4" height="3.4" class="s_"/>
<rect x="368.3" y="355.3" width="3.4" height="3.4" class="s_"/>
<rect x="383.3" y="359.3" width="3.4" height="3.4" class="s_"/>
<circle cx="376.0" cy="346.0" r="0.9" fill="#0070c0"/>
<circle cx="380.0" cy="343.0" r="0.9" fill="#0070c0"/>
<circle cx="385.0" cy="339.0" r="0.9" fill="#0070c0"/>
<circle cx="389.0" cy="336.0" r="0.9" fill="#0070c0"/>
<circle cx="386.0" cy="347.0" r="0.9" fill="#0070c0"/>
<circle cx="384.0" cy="355.0" r="0.9" fill="#0070c0"/>
<circle cx="381.0" cy="360.0" r="0.9" fill="#0070c0"/>
<circle cx="372.0" cy="350.0" r="0.9" fill="#0070c0"/>
<circle cx="390.0" cy="343.0" r="0.9" fill="#0070c0"/>
<text transform="translate(357.80,376.70) scale(0.92,1)" text-anchor="end" class="t">0</text>
<text transform="translate(366.30,388.20) scale(0.92,1)" text-anchor="middle" class="t">0</text>
<text transform="translate(357.80,350.22) scale(0.92,1)" text-anchor="end" class="t">200</text>
<text transform="translate(395.02,388.20) scale(0.92,1)" text-anchor="middle" class="t">200</text>
<text transform="translate(357.80,323.73) scale(0.92,1)" text-anchor="end" class="t">400</text>
<text transform="translate(423.73,388.20) scale(0.92,1)" text-anchor="middle" class="t">400</text>
<text transform="translate(357.80,297.25) scale(0.92,1)" text-anchor="end" class="t">600</text>
<text transform="translate(452.45,388.20) scale(0.92,1)" text-anchor="middle" class="t">600</text>
<text transform="translate(357.80,270.77) scale(0.92,1)" text-anchor="end" class="t">800</text>
<text transform="translate(481.17,388.20) scale(0.92,1)" text-anchor="middle" class="t">800</text>
<text transform="translate(357.80,244.28) scale(0.92,1)" text-anchor="end" class="t">1000</text>
<text transform="translate(509.88,388.20) scale(0.92,1)" text-anchor="middle" class="t">1000</text>
<text transform="translate(357.80,217.80) scale(0.92,1)" text-anchor="end" class="t">1200</text>
<text transform="translate(538.60,388.20) scale(0.92,1)" text-anchor="middle" class="t">1200</text>
<text transform="translate(393.50,401.10) scale(1,1)" class="l lx">Observed Discharge&#160; (10<tspan class="s" dy="-3.6">6</tspan><tspan dy="3.6"> m</tspan><tspan class="s" dy="-3.6">3</tspan><tspan dy="3.6">)</tspan></text>
<text transform="translate(336.00,357.80) scale(1,1) rotate(-90)" class="l">Simulated&#160; Discharge&#160; (10<tspan class="s" dy="-3.6">6</tspan><tspan dy="3.6"> m</tspan><tspan class="s" dy="-3.6">3</tspan><tspan dy="3.6">)</tspan></text>
<rect x="432.40" y="222.60" width="74.50" height="12.00" fill="#fff" stroke="#333" stroke-width="1"/>
<text x="469.65" y="231.30" text-anchor="middle" class="g">S2-SVD-NSGA-II</text>
</svg>
</body></html>
